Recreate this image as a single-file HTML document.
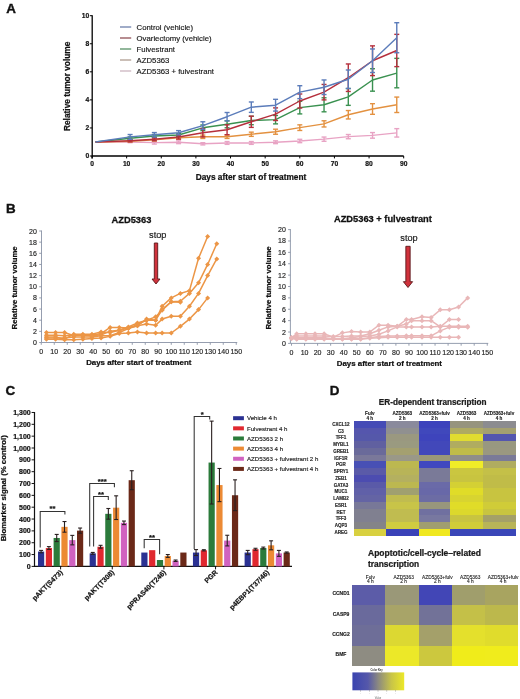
<!DOCTYPE html>
<html><head><meta charset="utf-8"><title>Figure</title>
<style>
html,body{margin:0;padding:0;background:#fff;}
body{width:520px;height:699px;overflow:hidden;}
svg{display:block;font-family:"Liberation Sans", sans-serif;filter:blur(0.3px);}
</style></head><body>
<svg width="520" height="699" viewBox="0 0 520 699">
<rect x="0" y="0" width="520" height="699" fill="#fff"/>
<text x="6.20" y="12.80" font-size="13.4" font-weight="bold" text-anchor="start" fill="#111" stroke="#111" stroke-width="0.38">A</text>
<line x1="92.20" y1="15.20" x2="92.20" y2="158.40" stroke="#000" stroke-width="1.3"/>
<line x1="91.70" y1="156.00" x2="403.70" y2="156.00" stroke="#000" stroke-width="1.35"/>
<line x1="89.80" y1="156.00" x2="92.20" y2="156.00" stroke="#000" stroke-width="1.0"/>
<text x="89.30" y="158.40" font-size="6.7" font-weight="bold" text-anchor="end" fill="#111" stroke="#111" stroke-width="0.19">0</text>
<line x1="89.80" y1="127.94" x2="92.20" y2="127.94" stroke="#000" stroke-width="1.0"/>
<text x="89.30" y="130.34" font-size="6.7" font-weight="bold" text-anchor="end" fill="#111" stroke="#111" stroke-width="0.19">2</text>
<line x1="89.80" y1="99.88" x2="92.20" y2="99.88" stroke="#000" stroke-width="1.0"/>
<text x="89.30" y="102.28" font-size="6.7" font-weight="bold" text-anchor="end" fill="#111" stroke="#111" stroke-width="0.19">4</text>
<line x1="89.80" y1="71.82" x2="92.20" y2="71.82" stroke="#000" stroke-width="1.0"/>
<text x="89.30" y="74.22" font-size="6.7" font-weight="bold" text-anchor="end" fill="#111" stroke="#111" stroke-width="0.19">6</text>
<line x1="89.80" y1="43.76" x2="92.20" y2="43.76" stroke="#000" stroke-width="1.0"/>
<text x="89.30" y="46.16" font-size="6.7" font-weight="bold" text-anchor="end" fill="#111" stroke="#111" stroke-width="0.19">8</text>
<line x1="89.80" y1="15.70" x2="92.20" y2="15.70" stroke="#000" stroke-width="1.0"/>
<text x="89.30" y="18.10" font-size="6.7" font-weight="bold" text-anchor="end" fill="#111" stroke="#111" stroke-width="0.19">10</text>
<line x1="92.00" y1="156.00" x2="92.00" y2="158.40" stroke="#000" stroke-width="1.0"/>
<text x="92.00" y="166.20" font-size="6.7" font-weight="bold" text-anchor="middle" fill="#111" stroke="#111" stroke-width="0.19">0</text>
<line x1="126.63" y1="156.00" x2="126.63" y2="158.40" stroke="#000" stroke-width="1.0"/>
<text x="126.63" y="166.20" font-size="6.7" font-weight="bold" text-anchor="middle" fill="#111" stroke="#111" stroke-width="0.19">10</text>
<line x1="161.27" y1="156.00" x2="161.27" y2="158.40" stroke="#000" stroke-width="1.0"/>
<text x="161.27" y="166.20" font-size="6.7" font-weight="bold" text-anchor="middle" fill="#111" stroke="#111" stroke-width="0.19">20</text>
<line x1="195.90" y1="156.00" x2="195.90" y2="158.40" stroke="#000" stroke-width="1.0"/>
<text x="195.90" y="166.20" font-size="6.7" font-weight="bold" text-anchor="middle" fill="#111" stroke="#111" stroke-width="0.19">30</text>
<line x1="230.53" y1="156.00" x2="230.53" y2="158.40" stroke="#000" stroke-width="1.0"/>
<text x="230.53" y="166.20" font-size="6.7" font-weight="bold" text-anchor="middle" fill="#111" stroke="#111" stroke-width="0.19">40</text>
<line x1="265.17" y1="156.00" x2="265.17" y2="158.40" stroke="#000" stroke-width="1.0"/>
<text x="265.17" y="166.20" font-size="6.7" font-weight="bold" text-anchor="middle" fill="#111" stroke="#111" stroke-width="0.19">50</text>
<line x1="299.80" y1="156.00" x2="299.80" y2="158.40" stroke="#000" stroke-width="1.0"/>
<text x="299.80" y="166.20" font-size="6.7" font-weight="bold" text-anchor="middle" fill="#111" stroke="#111" stroke-width="0.19">60</text>
<line x1="334.43" y1="156.00" x2="334.43" y2="158.40" stroke="#000" stroke-width="1.0"/>
<text x="334.43" y="166.20" font-size="6.7" font-weight="bold" text-anchor="middle" fill="#111" stroke="#111" stroke-width="0.19">70</text>
<line x1="369.07" y1="156.00" x2="369.07" y2="158.40" stroke="#000" stroke-width="1.0"/>
<text x="369.07" y="166.20" font-size="6.7" font-weight="bold" text-anchor="middle" fill="#111" stroke="#111" stroke-width="0.19">80</text>
<line x1="403.70" y1="156.00" x2="403.70" y2="158.40" stroke="#000" stroke-width="1.0"/>
<text x="403.70" y="166.20" font-size="6.7" font-weight="bold" text-anchor="middle" fill="#111" stroke="#111" stroke-width="0.19">90</text>
<text x="251.00" y="180.20" font-size="8.3" font-weight="bold" text-anchor="middle" fill="#111" stroke="#111" stroke-width="0.23">Days after start of treatment</text>
<text x="70.40" y="86.30" font-size="8.35" font-weight="bold" text-anchor="middle" fill="#111" stroke="#111" stroke-width="0.23" transform="rotate(-90 70.40 86.30)">Relative tumor volume</text>
<polyline points="95.46,141.97 130.10,141.97 154.34,142.67 178.58,142.25 202.83,143.79 227.07,142.95 251.31,142.95 275.56,142.25 299.80,140.99 324.04,139.16 348.29,136.64 372.53,135.38 396.77,132.85" fill="none" stroke="#e8a3c4" stroke-width="1.4" stroke-linejoin="round"/>
<line x1="130.10" y1="141.27" x2="130.10" y2="142.67" stroke="#e8a3c4" stroke-width="1.4"/>
<line x1="127.60" y1="141.27" x2="132.60" y2="141.27" stroke="#e8a3c4" stroke-width="1.4"/>
<line x1="127.60" y1="142.67" x2="132.60" y2="142.67" stroke="#e8a3c4" stroke-width="1.4"/>
<line x1="154.34" y1="141.27" x2="154.34" y2="144.07" stroke="#e8a3c4" stroke-width="1.4"/>
<line x1="151.84" y1="141.27" x2="156.84" y2="141.27" stroke="#e8a3c4" stroke-width="1.4"/>
<line x1="151.84" y1="144.07" x2="156.84" y2="144.07" stroke="#e8a3c4" stroke-width="1.4"/>
<line x1="178.58" y1="140.85" x2="178.58" y2="143.65" stroke="#e8a3c4" stroke-width="1.4"/>
<line x1="176.08" y1="140.85" x2="181.08" y2="140.85" stroke="#e8a3c4" stroke-width="1.4"/>
<line x1="176.08" y1="143.65" x2="181.08" y2="143.65" stroke="#e8a3c4" stroke-width="1.4"/>
<line x1="202.83" y1="142.67" x2="202.83" y2="144.92" stroke="#e8a3c4" stroke-width="1.4"/>
<line x1="200.33" y1="142.67" x2="205.33" y2="142.67" stroke="#e8a3c4" stroke-width="1.4"/>
<line x1="200.33" y1="144.92" x2="205.33" y2="144.92" stroke="#e8a3c4" stroke-width="1.4"/>
<line x1="227.07" y1="141.55" x2="227.07" y2="144.36" stroke="#e8a3c4" stroke-width="1.4"/>
<line x1="224.57" y1="141.55" x2="229.57" y2="141.55" stroke="#e8a3c4" stroke-width="1.4"/>
<line x1="224.57" y1="144.36" x2="229.57" y2="144.36" stroke="#e8a3c4" stroke-width="1.4"/>
<line x1="251.31" y1="141.55" x2="251.31" y2="144.36" stroke="#e8a3c4" stroke-width="1.4"/>
<line x1="248.81" y1="141.55" x2="253.81" y2="141.55" stroke="#e8a3c4" stroke-width="1.4"/>
<line x1="248.81" y1="144.36" x2="253.81" y2="144.36" stroke="#e8a3c4" stroke-width="1.4"/>
<line x1="275.56" y1="140.85" x2="275.56" y2="143.65" stroke="#e8a3c4" stroke-width="1.4"/>
<line x1="273.06" y1="140.85" x2="278.06" y2="140.85" stroke="#e8a3c4" stroke-width="1.4"/>
<line x1="273.06" y1="143.65" x2="278.06" y2="143.65" stroke="#e8a3c4" stroke-width="1.4"/>
<line x1="299.80" y1="139.30" x2="299.80" y2="142.67" stroke="#e8a3c4" stroke-width="1.4"/>
<line x1="297.30" y1="139.30" x2="302.30" y2="139.30" stroke="#e8a3c4" stroke-width="1.4"/>
<line x1="297.30" y1="142.67" x2="302.30" y2="142.67" stroke="#e8a3c4" stroke-width="1.4"/>
<line x1="324.04" y1="137.06" x2="324.04" y2="141.27" stroke="#e8a3c4" stroke-width="1.4"/>
<line x1="321.54" y1="137.06" x2="326.54" y2="137.06" stroke="#e8a3c4" stroke-width="1.4"/>
<line x1="321.54" y1="141.27" x2="326.54" y2="141.27" stroke="#e8a3c4" stroke-width="1.4"/>
<line x1="348.29" y1="134.53" x2="348.29" y2="138.74" stroke="#e8a3c4" stroke-width="1.4"/>
<line x1="345.79" y1="134.53" x2="350.79" y2="134.53" stroke="#e8a3c4" stroke-width="1.4"/>
<line x1="345.79" y1="138.74" x2="350.79" y2="138.74" stroke="#e8a3c4" stroke-width="1.4"/>
<line x1="372.53" y1="132.57" x2="372.53" y2="138.18" stroke="#e8a3c4" stroke-width="1.4"/>
<line x1="370.03" y1="132.57" x2="375.03" y2="132.57" stroke="#e8a3c4" stroke-width="1.4"/>
<line x1="370.03" y1="138.18" x2="375.03" y2="138.18" stroke="#e8a3c4" stroke-width="1.4"/>
<line x1="396.77" y1="128.64" x2="396.77" y2="137.06" stroke="#e8a3c4" stroke-width="1.4"/>
<line x1="394.27" y1="128.64" x2="399.27" y2="128.64" stroke="#e8a3c4" stroke-width="1.4"/>
<line x1="394.27" y1="137.06" x2="399.27" y2="137.06" stroke="#e8a3c4" stroke-width="1.4"/>
<polyline points="95.46,141.97 130.10,141.27 154.34,139.87 178.58,137.76 202.83,136.78 227.07,136.78 251.31,134.25 275.56,131.73 299.80,127.66 324.04,123.87 348.29,114.75 372.53,109.00 396.77,104.79" fill="none" stroke="#e39140" stroke-width="1.4" stroke-linejoin="round"/>
<line x1="130.10" y1="140.57" x2="130.10" y2="141.97" stroke="#e39140" stroke-width="1.4"/>
<line x1="127.60" y1="140.57" x2="132.60" y2="140.57" stroke="#e39140" stroke-width="1.4"/>
<line x1="127.60" y1="141.97" x2="132.60" y2="141.97" stroke="#e39140" stroke-width="1.4"/>
<line x1="154.34" y1="138.74" x2="154.34" y2="140.99" stroke="#e39140" stroke-width="1.4"/>
<line x1="151.84" y1="138.74" x2="156.84" y2="138.74" stroke="#e39140" stroke-width="1.4"/>
<line x1="151.84" y1="140.99" x2="156.84" y2="140.99" stroke="#e39140" stroke-width="1.4"/>
<line x1="178.58" y1="136.36" x2="178.58" y2="139.16" stroke="#e39140" stroke-width="1.4"/>
<line x1="176.08" y1="136.36" x2="181.08" y2="136.36" stroke="#e39140" stroke-width="1.4"/>
<line x1="176.08" y1="139.16" x2="181.08" y2="139.16" stroke="#e39140" stroke-width="1.4"/>
<line x1="202.83" y1="135.10" x2="202.83" y2="138.46" stroke="#e39140" stroke-width="1.4"/>
<line x1="200.33" y1="135.10" x2="205.33" y2="135.10" stroke="#e39140" stroke-width="1.4"/>
<line x1="200.33" y1="138.46" x2="205.33" y2="138.46" stroke="#e39140" stroke-width="1.4"/>
<line x1="227.07" y1="135.10" x2="227.07" y2="138.46" stroke="#e39140" stroke-width="1.4"/>
<line x1="224.57" y1="135.10" x2="229.57" y2="135.10" stroke="#e39140" stroke-width="1.4"/>
<line x1="224.57" y1="138.46" x2="229.57" y2="138.46" stroke="#e39140" stroke-width="1.4"/>
<line x1="251.31" y1="132.15" x2="251.31" y2="136.36" stroke="#e39140" stroke-width="1.4"/>
<line x1="248.81" y1="132.15" x2="253.81" y2="132.15" stroke="#e39140" stroke-width="1.4"/>
<line x1="248.81" y1="136.36" x2="253.81" y2="136.36" stroke="#e39140" stroke-width="1.4"/>
<line x1="275.56" y1="129.20" x2="275.56" y2="134.25" stroke="#e39140" stroke-width="1.4"/>
<line x1="273.06" y1="129.20" x2="278.06" y2="129.20" stroke="#e39140" stroke-width="1.4"/>
<line x1="273.06" y1="134.25" x2="278.06" y2="134.25" stroke="#e39140" stroke-width="1.4"/>
<line x1="299.80" y1="124.85" x2="299.80" y2="130.47" stroke="#e39140" stroke-width="1.4"/>
<line x1="297.30" y1="124.85" x2="302.30" y2="124.85" stroke="#e39140" stroke-width="1.4"/>
<line x1="297.30" y1="130.47" x2="302.30" y2="130.47" stroke="#e39140" stroke-width="1.4"/>
<line x1="324.04" y1="120.78" x2="324.04" y2="126.96" stroke="#e39140" stroke-width="1.4"/>
<line x1="321.54" y1="120.78" x2="326.54" y2="120.78" stroke="#e39140" stroke-width="1.4"/>
<line x1="321.54" y1="126.96" x2="326.54" y2="126.96" stroke="#e39140" stroke-width="1.4"/>
<line x1="348.29" y1="110.54" x2="348.29" y2="118.96" stroke="#e39140" stroke-width="1.4"/>
<line x1="345.79" y1="110.54" x2="350.79" y2="110.54" stroke="#e39140" stroke-width="1.4"/>
<line x1="345.79" y1="118.96" x2="350.79" y2="118.96" stroke="#e39140" stroke-width="1.4"/>
<line x1="372.53" y1="103.67" x2="372.53" y2="114.33" stroke="#e39140" stroke-width="1.4"/>
<line x1="370.03" y1="103.67" x2="375.03" y2="103.67" stroke="#e39140" stroke-width="1.4"/>
<line x1="370.03" y1="114.33" x2="375.03" y2="114.33" stroke="#e39140" stroke-width="1.4"/>
<line x1="396.77" y1="97.07" x2="396.77" y2="112.51" stroke="#e39140" stroke-width="1.4"/>
<line x1="394.27" y1="97.07" x2="399.27" y2="97.07" stroke="#e39140" stroke-width="1.4"/>
<line x1="394.27" y1="112.51" x2="399.27" y2="112.51" stroke="#e39140" stroke-width="1.4"/>
<polyline points="95.46,141.97 130.10,138.32 154.34,135.94 178.58,134.96 202.83,127.80 227.07,124.29 251.31,120.50 275.56,119.66 299.80,107.60 324.04,104.79 348.29,96.93 372.53,79.96 396.77,73.08" fill="none" stroke="#3a9150" stroke-width="1.4" stroke-linejoin="round"/>
<line x1="130.10" y1="136.92" x2="130.10" y2="139.73" stroke="#3a9150" stroke-width="1.4"/>
<line x1="127.60" y1="136.92" x2="132.60" y2="136.92" stroke="#3a9150" stroke-width="1.4"/>
<line x1="127.60" y1="139.73" x2="132.60" y2="139.73" stroke="#3a9150" stroke-width="1.4"/>
<line x1="154.34" y1="134.53" x2="154.34" y2="137.34" stroke="#3a9150" stroke-width="1.4"/>
<line x1="151.84" y1="134.53" x2="156.84" y2="134.53" stroke="#3a9150" stroke-width="1.4"/>
<line x1="151.84" y1="137.34" x2="156.84" y2="137.34" stroke="#3a9150" stroke-width="1.4"/>
<line x1="178.58" y1="133.55" x2="178.58" y2="136.36" stroke="#3a9150" stroke-width="1.4"/>
<line x1="176.08" y1="133.55" x2="181.08" y2="133.55" stroke="#3a9150" stroke-width="1.4"/>
<line x1="176.08" y1="136.36" x2="181.08" y2="136.36" stroke="#3a9150" stroke-width="1.4"/>
<line x1="202.83" y1="124.99" x2="202.83" y2="130.61" stroke="#3a9150" stroke-width="1.4"/>
<line x1="200.33" y1="124.99" x2="205.33" y2="124.99" stroke="#3a9150" stroke-width="1.4"/>
<line x1="200.33" y1="130.61" x2="205.33" y2="130.61" stroke="#3a9150" stroke-width="1.4"/>
<line x1="227.07" y1="120.78" x2="227.07" y2="127.80" stroke="#3a9150" stroke-width="1.4"/>
<line x1="224.57" y1="120.78" x2="229.57" y2="120.78" stroke="#3a9150" stroke-width="1.4"/>
<line x1="224.57" y1="127.80" x2="229.57" y2="127.80" stroke="#3a9150" stroke-width="1.4"/>
<line x1="251.31" y1="116.30" x2="251.31" y2="124.71" stroke="#3a9150" stroke-width="1.4"/>
<line x1="248.81" y1="116.30" x2="253.81" y2="116.30" stroke="#3a9150" stroke-width="1.4"/>
<line x1="248.81" y1="124.71" x2="253.81" y2="124.71" stroke="#3a9150" stroke-width="1.4"/>
<line x1="275.56" y1="115.45" x2="275.56" y2="123.87" stroke="#3a9150" stroke-width="1.4"/>
<line x1="273.06" y1="115.45" x2="278.06" y2="115.45" stroke="#3a9150" stroke-width="1.4"/>
<line x1="273.06" y1="123.87" x2="278.06" y2="123.87" stroke="#3a9150" stroke-width="1.4"/>
<line x1="299.80" y1="101.28" x2="299.80" y2="113.91" stroke="#3a9150" stroke-width="1.4"/>
<line x1="297.30" y1="101.28" x2="302.30" y2="101.28" stroke="#3a9150" stroke-width="1.4"/>
<line x1="297.30" y1="113.91" x2="302.30" y2="113.91" stroke="#3a9150" stroke-width="1.4"/>
<line x1="324.04" y1="97.78" x2="324.04" y2="111.81" stroke="#3a9150" stroke-width="1.4"/>
<line x1="321.54" y1="97.78" x2="326.54" y2="97.78" stroke="#3a9150" stroke-width="1.4"/>
<line x1="321.54" y1="111.81" x2="326.54" y2="111.81" stroke="#3a9150" stroke-width="1.4"/>
<line x1="348.29" y1="88.52" x2="348.29" y2="105.35" stroke="#3a9150" stroke-width="1.4"/>
<line x1="345.79" y1="88.52" x2="350.79" y2="88.52" stroke="#3a9150" stroke-width="1.4"/>
<line x1="345.79" y1="105.35" x2="350.79" y2="105.35" stroke="#3a9150" stroke-width="1.4"/>
<line x1="372.53" y1="68.73" x2="372.53" y2="91.18" stroke="#3a9150" stroke-width="1.4"/>
<line x1="370.03" y1="68.73" x2="375.03" y2="68.73" stroke="#3a9150" stroke-width="1.4"/>
<line x1="370.03" y1="91.18" x2="375.03" y2="91.18" stroke="#3a9150" stroke-width="1.4"/>
<line x1="396.77" y1="58.35" x2="396.77" y2="87.81" stroke="#3a9150" stroke-width="1.4"/>
<line x1="394.27" y1="58.35" x2="399.27" y2="58.35" stroke="#3a9150" stroke-width="1.4"/>
<line x1="394.27" y1="87.81" x2="399.27" y2="87.81" stroke="#3a9150" stroke-width="1.4"/>
<polyline points="95.46,141.97 130.10,140.71 154.34,139.30 178.58,137.06 202.83,132.71 227.07,129.76 251.31,121.77 275.56,114.19 299.80,101.00 324.04,92.16 348.29,77.71 372.53,60.74 396.77,50.49" fill="none" stroke="#b52f3c" stroke-width="1.4" stroke-linejoin="round"/>
<line x1="130.10" y1="139.58" x2="130.10" y2="141.83" stroke="#b52f3c" stroke-width="1.4"/>
<line x1="127.60" y1="139.58" x2="132.60" y2="139.58" stroke="#b52f3c" stroke-width="1.4"/>
<line x1="127.60" y1="141.83" x2="132.60" y2="141.83" stroke="#b52f3c" stroke-width="1.4"/>
<line x1="154.34" y1="137.90" x2="154.34" y2="140.71" stroke="#b52f3c" stroke-width="1.4"/>
<line x1="151.84" y1="137.90" x2="156.84" y2="137.90" stroke="#b52f3c" stroke-width="1.4"/>
<line x1="151.84" y1="140.71" x2="156.84" y2="140.71" stroke="#b52f3c" stroke-width="1.4"/>
<line x1="178.58" y1="135.10" x2="178.58" y2="139.02" stroke="#b52f3c" stroke-width="1.4"/>
<line x1="176.08" y1="135.10" x2="181.08" y2="135.10" stroke="#b52f3c" stroke-width="1.4"/>
<line x1="176.08" y1="139.02" x2="181.08" y2="139.02" stroke="#b52f3c" stroke-width="1.4"/>
<line x1="202.83" y1="128.50" x2="202.83" y2="136.92" stroke="#b52f3c" stroke-width="1.4"/>
<line x1="200.33" y1="128.50" x2="205.33" y2="128.50" stroke="#b52f3c" stroke-width="1.4"/>
<line x1="200.33" y1="136.92" x2="205.33" y2="136.92" stroke="#b52f3c" stroke-width="1.4"/>
<line x1="227.07" y1="124.85" x2="227.07" y2="134.67" stroke="#b52f3c" stroke-width="1.4"/>
<line x1="224.57" y1="124.85" x2="229.57" y2="124.85" stroke="#b52f3c" stroke-width="1.4"/>
<line x1="224.57" y1="134.67" x2="229.57" y2="134.67" stroke="#b52f3c" stroke-width="1.4"/>
<line x1="251.31" y1="116.15" x2="251.31" y2="127.38" stroke="#b52f3c" stroke-width="1.4"/>
<line x1="248.81" y1="116.15" x2="253.81" y2="116.15" stroke="#b52f3c" stroke-width="1.4"/>
<line x1="248.81" y1="127.38" x2="253.81" y2="127.38" stroke="#b52f3c" stroke-width="1.4"/>
<line x1="275.56" y1="107.88" x2="275.56" y2="120.50" stroke="#b52f3c" stroke-width="1.4"/>
<line x1="273.06" y1="107.88" x2="278.06" y2="107.88" stroke="#b52f3c" stroke-width="1.4"/>
<line x1="273.06" y1="120.50" x2="278.06" y2="120.50" stroke="#b52f3c" stroke-width="1.4"/>
<line x1="299.80" y1="93.99" x2="299.80" y2="108.02" stroke="#b52f3c" stroke-width="1.4"/>
<line x1="297.30" y1="93.99" x2="302.30" y2="93.99" stroke="#b52f3c" stroke-width="1.4"/>
<line x1="297.30" y1="108.02" x2="302.30" y2="108.02" stroke="#b52f3c" stroke-width="1.4"/>
<line x1="324.04" y1="84.45" x2="324.04" y2="99.88" stroke="#b52f3c" stroke-width="1.4"/>
<line x1="321.54" y1="84.45" x2="326.54" y2="84.45" stroke="#b52f3c" stroke-width="1.4"/>
<line x1="321.54" y1="99.88" x2="326.54" y2="99.88" stroke="#b52f3c" stroke-width="1.4"/>
<line x1="348.29" y1="63.96" x2="348.29" y2="91.46" stroke="#b52f3c" stroke-width="1.4"/>
<line x1="345.79" y1="63.96" x2="350.79" y2="63.96" stroke="#b52f3c" stroke-width="1.4"/>
<line x1="345.79" y1="91.46" x2="350.79" y2="91.46" stroke="#b52f3c" stroke-width="1.4"/>
<line x1="372.53" y1="45.86" x2="372.53" y2="75.61" stroke="#b52f3c" stroke-width="1.4"/>
<line x1="370.03" y1="45.86" x2="375.03" y2="45.86" stroke="#b52f3c" stroke-width="1.4"/>
<line x1="370.03" y1="75.61" x2="375.03" y2="75.61" stroke="#b52f3c" stroke-width="1.4"/>
<line x1="396.77" y1="34.36" x2="396.77" y2="66.63" stroke="#b52f3c" stroke-width="1.4"/>
<line x1="394.27" y1="34.36" x2="399.27" y2="34.36" stroke="#b52f3c" stroke-width="1.4"/>
<line x1="394.27" y1="66.63" x2="399.27" y2="66.63" stroke="#b52f3c" stroke-width="1.4"/>
<polyline points="95.46,141.97 130.10,136.92 154.34,134.81 178.58,132.71 202.83,125.55 227.07,116.72 251.31,107.18 275.56,105.21 299.80,92.16 324.04,87.25 348.29,79.26 372.53,60.74 396.77,37.73" fill="none" stroke="#5b7cba" stroke-width="1.4" stroke-linejoin="round"/>
<line x1="130.10" y1="134.53" x2="130.10" y2="139.30" stroke="#5b7cba" stroke-width="1.4"/>
<line x1="127.60" y1="134.53" x2="132.60" y2="134.53" stroke="#5b7cba" stroke-width="1.4"/>
<line x1="127.60" y1="139.30" x2="132.60" y2="139.30" stroke="#5b7cba" stroke-width="1.4"/>
<line x1="154.34" y1="132.57" x2="154.34" y2="137.06" stroke="#5b7cba" stroke-width="1.4"/>
<line x1="151.84" y1="132.57" x2="156.84" y2="132.57" stroke="#5b7cba" stroke-width="1.4"/>
<line x1="151.84" y1="137.06" x2="156.84" y2="137.06" stroke="#5b7cba" stroke-width="1.4"/>
<line x1="178.58" y1="130.61" x2="178.58" y2="134.81" stroke="#5b7cba" stroke-width="1.4"/>
<line x1="176.08" y1="130.61" x2="181.08" y2="130.61" stroke="#5b7cba" stroke-width="1.4"/>
<line x1="176.08" y1="134.81" x2="181.08" y2="134.81" stroke="#5b7cba" stroke-width="1.4"/>
<line x1="202.83" y1="121.77" x2="202.83" y2="129.34" stroke="#5b7cba" stroke-width="1.4"/>
<line x1="200.33" y1="121.77" x2="205.33" y2="121.77" stroke="#5b7cba" stroke-width="1.4"/>
<line x1="200.33" y1="129.34" x2="205.33" y2="129.34" stroke="#5b7cba" stroke-width="1.4"/>
<line x1="227.07" y1="112.51" x2="227.07" y2="120.93" stroke="#5b7cba" stroke-width="1.4"/>
<line x1="224.57" y1="112.51" x2="229.57" y2="112.51" stroke="#5b7cba" stroke-width="1.4"/>
<line x1="224.57" y1="120.93" x2="229.57" y2="120.93" stroke="#5b7cba" stroke-width="1.4"/>
<line x1="251.31" y1="101.98" x2="251.31" y2="112.37" stroke="#5b7cba" stroke-width="1.4"/>
<line x1="248.81" y1="101.98" x2="253.81" y2="101.98" stroke="#5b7cba" stroke-width="1.4"/>
<line x1="248.81" y1="112.37" x2="253.81" y2="112.37" stroke="#5b7cba" stroke-width="1.4"/>
<line x1="275.56" y1="99.32" x2="275.56" y2="111.10" stroke="#5b7cba" stroke-width="1.4"/>
<line x1="273.06" y1="99.32" x2="278.06" y2="99.32" stroke="#5b7cba" stroke-width="1.4"/>
<line x1="273.06" y1="111.10" x2="278.06" y2="111.10" stroke="#5b7cba" stroke-width="1.4"/>
<line x1="299.80" y1="85.71" x2="299.80" y2="98.62" stroke="#5b7cba" stroke-width="1.4"/>
<line x1="297.30" y1="85.71" x2="302.30" y2="85.71" stroke="#5b7cba" stroke-width="1.4"/>
<line x1="297.30" y1="98.62" x2="302.30" y2="98.62" stroke="#5b7cba" stroke-width="1.4"/>
<line x1="324.04" y1="79.96" x2="324.04" y2="94.55" stroke="#5b7cba" stroke-width="1.4"/>
<line x1="321.54" y1="79.96" x2="326.54" y2="79.96" stroke="#5b7cba" stroke-width="1.4"/>
<line x1="321.54" y1="94.55" x2="326.54" y2="94.55" stroke="#5b7cba" stroke-width="1.4"/>
<line x1="348.29" y1="70.00" x2="348.29" y2="88.52" stroke="#5b7cba" stroke-width="1.4"/>
<line x1="345.79" y1="70.00" x2="350.79" y2="70.00" stroke="#5b7cba" stroke-width="1.4"/>
<line x1="345.79" y1="88.52" x2="350.79" y2="88.52" stroke="#5b7cba" stroke-width="1.4"/>
<line x1="372.53" y1="48.95" x2="372.53" y2="72.52" stroke="#5b7cba" stroke-width="1.4"/>
<line x1="370.03" y1="48.95" x2="375.03" y2="48.95" stroke="#5b7cba" stroke-width="1.4"/>
<line x1="370.03" y1="72.52" x2="375.03" y2="72.52" stroke="#5b7cba" stroke-width="1.4"/>
<line x1="396.77" y1="22.72" x2="396.77" y2="52.74" stroke="#5b7cba" stroke-width="1.4"/>
<line x1="394.27" y1="22.72" x2="399.27" y2="22.72" stroke="#5b7cba" stroke-width="1.4"/>
<line x1="394.27" y1="52.74" x2="399.27" y2="52.74" stroke="#5b7cba" stroke-width="1.4"/>
<line x1="120.00" y1="27.00" x2="131.20" y2="27.00" stroke="#52699c" stroke-width="1.1"/>
<text x="136.60" y="30.10" font-size="7.75" text-anchor="start" fill="#1a1a1a" stroke="#1a1a1a" stroke-width="0.17">Control (vehicle)</text>
<line x1="120.00" y1="38.00" x2="131.20" y2="38.00" stroke="#7c3038" stroke-width="1.1"/>
<text x="136.60" y="40.95" font-size="7.75" text-anchor="start" fill="#1a1a1a" stroke="#1a1a1a" stroke-width="0.17">Ovariectomy (vehicle)</text>
<line x1="120.00" y1="49.00" x2="131.20" y2="49.00" stroke="#3a7c4a" stroke-width="1.1"/>
<text x="136.60" y="51.80" font-size="7.75" text-anchor="start" fill="#1a1a1a" stroke="#1a1a1a" stroke-width="0.17">Fulvestrant</text>
<line x1="120.00" y1="60.00" x2="131.20" y2="60.00" stroke="#a08a7c" stroke-width="1.1"/>
<text x="136.60" y="62.65" font-size="7.75" text-anchor="start" fill="#1a1a1a" stroke="#1a1a1a" stroke-width="0.17">AZD5363</text>
<line x1="120.00" y1="71.00" x2="131.20" y2="71.00" stroke="#c4a8b4" stroke-width="1.1"/>
<text x="136.60" y="73.50" font-size="7.75" text-anchor="start" fill="#1a1a1a" stroke="#1a1a1a" stroke-width="0.17">AZD5363 + fulvestrant</text>
<text x="5.90" y="212.60" font-size="13.4" font-weight="bold" text-anchor="start" fill="#111" stroke="#111" stroke-width="0.38">B</text>
<line x1="41.50" y1="230.50" x2="41.50" y2="342.50" stroke="#8a93a6" stroke-width="0.9"/>
<line x1="41.50" y1="342.50" x2="237.25" y2="342.50" stroke="#8a93a6" stroke-width="0.9"/>
<line x1="39.20" y1="342.50" x2="41.50" y2="342.50" stroke="#8a93a6" stroke-width="0.9"/>
<text x="36.90" y="345.00" font-size="7.0" text-anchor="end" fill="#222" stroke="#222" stroke-width="0.15">0</text>
<line x1="39.20" y1="331.35" x2="41.50" y2="331.35" stroke="#8a93a6" stroke-width="0.9"/>
<text x="36.90" y="333.85" font-size="7.0" text-anchor="end" fill="#222" stroke="#222" stroke-width="0.15">2</text>
<line x1="39.20" y1="320.20" x2="41.50" y2="320.20" stroke="#8a93a6" stroke-width="0.9"/>
<text x="36.90" y="322.70" font-size="7.0" text-anchor="end" fill="#222" stroke="#222" stroke-width="0.15">4</text>
<line x1="39.20" y1="309.05" x2="41.50" y2="309.05" stroke="#8a93a6" stroke-width="0.9"/>
<text x="36.90" y="311.55" font-size="7.0" text-anchor="end" fill="#222" stroke="#222" stroke-width="0.15">6</text>
<line x1="39.20" y1="297.90" x2="41.50" y2="297.90" stroke="#8a93a6" stroke-width="0.9"/>
<text x="36.90" y="300.40" font-size="7.0" text-anchor="end" fill="#222" stroke="#222" stroke-width="0.15">8</text>
<line x1="39.20" y1="286.75" x2="41.50" y2="286.75" stroke="#8a93a6" stroke-width="0.9"/>
<text x="36.90" y="289.25" font-size="7.0" text-anchor="end" fill="#222" stroke="#222" stroke-width="0.15">10</text>
<line x1="39.20" y1="275.60" x2="41.50" y2="275.60" stroke="#8a93a6" stroke-width="0.9"/>
<text x="36.90" y="278.10" font-size="7.0" text-anchor="end" fill="#222" stroke="#222" stroke-width="0.15">12</text>
<line x1="39.20" y1="264.45" x2="41.50" y2="264.45" stroke="#8a93a6" stroke-width="0.9"/>
<text x="36.90" y="266.95" font-size="7.0" text-anchor="end" fill="#222" stroke="#222" stroke-width="0.15">14</text>
<line x1="39.20" y1="253.30" x2="41.50" y2="253.30" stroke="#8a93a6" stroke-width="0.9"/>
<text x="36.90" y="255.80" font-size="7.0" text-anchor="end" fill="#222" stroke="#222" stroke-width="0.15">16</text>
<line x1="39.20" y1="242.15" x2="41.50" y2="242.15" stroke="#8a93a6" stroke-width="0.9"/>
<text x="36.90" y="244.65" font-size="7.0" text-anchor="end" fill="#222" stroke="#222" stroke-width="0.15">18</text>
<line x1="39.20" y1="231.00" x2="41.50" y2="231.00" stroke="#8a93a6" stroke-width="0.9"/>
<text x="36.90" y="233.50" font-size="7.0" text-anchor="end" fill="#222" stroke="#222" stroke-width="0.15">20</text>
<line x1="41.25" y1="342.50" x2="41.25" y2="344.80" stroke="#8a93a6" stroke-width="0.9"/>
<text x="41.25" y="354.30" font-size="7.0" text-anchor="middle" fill="#222" stroke="#222" stroke-width="0.15">0</text>
<line x1="54.25" y1="342.50" x2="54.25" y2="344.80" stroke="#8a93a6" stroke-width="0.9"/>
<text x="54.25" y="354.30" font-size="7.0" text-anchor="middle" fill="#222" stroke="#222" stroke-width="0.15">10</text>
<line x1="67.25" y1="342.50" x2="67.25" y2="344.80" stroke="#8a93a6" stroke-width="0.9"/>
<text x="67.25" y="354.30" font-size="7.0" text-anchor="middle" fill="#222" stroke="#222" stroke-width="0.15">20</text>
<line x1="80.25" y1="342.50" x2="80.25" y2="344.80" stroke="#8a93a6" stroke-width="0.9"/>
<text x="80.25" y="354.30" font-size="7.0" text-anchor="middle" fill="#222" stroke="#222" stroke-width="0.15">30</text>
<line x1="93.25" y1="342.50" x2="93.25" y2="344.80" stroke="#8a93a6" stroke-width="0.9"/>
<text x="93.25" y="354.30" font-size="7.0" text-anchor="middle" fill="#222" stroke="#222" stroke-width="0.15">40</text>
<line x1="106.25" y1="342.50" x2="106.25" y2="344.80" stroke="#8a93a6" stroke-width="0.9"/>
<text x="106.25" y="354.30" font-size="7.0" text-anchor="middle" fill="#222" stroke="#222" stroke-width="0.15">50</text>
<line x1="119.25" y1="342.50" x2="119.25" y2="344.80" stroke="#8a93a6" stroke-width="0.9"/>
<text x="119.25" y="354.30" font-size="7.0" text-anchor="middle" fill="#222" stroke="#222" stroke-width="0.15">60</text>
<line x1="132.25" y1="342.50" x2="132.25" y2="344.80" stroke="#8a93a6" stroke-width="0.9"/>
<text x="132.25" y="354.30" font-size="7.0" text-anchor="middle" fill="#222" stroke="#222" stroke-width="0.15">70</text>
<line x1="145.25" y1="342.50" x2="145.25" y2="344.80" stroke="#8a93a6" stroke-width="0.9"/>
<text x="145.25" y="354.30" font-size="7.0" text-anchor="middle" fill="#222" stroke="#222" stroke-width="0.15">80</text>
<line x1="158.25" y1="342.50" x2="158.25" y2="344.80" stroke="#8a93a6" stroke-width="0.9"/>
<text x="158.25" y="354.30" font-size="7.0" text-anchor="middle" fill="#222" stroke="#222" stroke-width="0.15">90</text>
<line x1="171.25" y1="342.50" x2="171.25" y2="344.80" stroke="#8a93a6" stroke-width="0.9"/>
<text x="171.25" y="354.30" font-size="7.0" text-anchor="middle" fill="#222" stroke="#222" stroke-width="0.15">100</text>
<line x1="184.25" y1="342.50" x2="184.25" y2="344.80" stroke="#8a93a6" stroke-width="0.9"/>
<text x="184.25" y="354.30" font-size="7.0" text-anchor="middle" fill="#222" stroke="#222" stroke-width="0.15">110</text>
<line x1="197.25" y1="342.50" x2="197.25" y2="344.80" stroke="#8a93a6" stroke-width="0.9"/>
<text x="197.25" y="354.30" font-size="7.0" text-anchor="middle" fill="#222" stroke="#222" stroke-width="0.15">120</text>
<line x1="210.25" y1="342.50" x2="210.25" y2="344.80" stroke="#8a93a6" stroke-width="0.9"/>
<text x="210.25" y="354.30" font-size="7.0" text-anchor="middle" fill="#222" stroke="#222" stroke-width="0.15">130</text>
<line x1="223.25" y1="342.50" x2="223.25" y2="344.80" stroke="#8a93a6" stroke-width="0.9"/>
<text x="223.25" y="354.30" font-size="7.0" text-anchor="middle" fill="#222" stroke="#222" stroke-width="0.15">140</text>
<line x1="236.25" y1="342.50" x2="236.25" y2="344.80" stroke="#8a93a6" stroke-width="0.9"/>
<text x="236.25" y="354.30" font-size="7.0" text-anchor="middle" fill="#222" stroke="#222" stroke-width="0.15">150</text>
<text x="138.75" y="365.00" font-size="7.9" font-weight="bold" text-anchor="middle" fill="#111" stroke="#111" stroke-width="0.22">Days after start of treatment</text>
<text x="17.10" y="287.90" font-size="7.75" font-weight="bold" text-anchor="middle" fill="#111" stroke="#111" stroke-width="0.22" transform="rotate(-90 17.10 287.90)">Relative tumor volume</text>
<text x="131.50" y="222.50" font-size="9.3" font-weight="bold" text-anchor="middle" fill="#111" stroke="#111" stroke-width="0.26">AZD5363</text>
<polyline points="46.45,332.46 55.55,332.46 64.65,332.46 73.75,335.81 82.85,335.25 91.95,335.25 101.05,333.58 110.15,327.45 119.25,327.45 128.35,328.00 137.45,325.77 146.55,319.08 155.65,320.20 162.15,306.26 171.25,297.90 180.35,293.44 189.45,290.65 198.55,258.32 207.65,236.57" fill="none" stroke="#ec9646" stroke-width="1.5" stroke-linejoin="round"/>
<path d="M46.45,329.96 L48.95,332.46 L46.45,334.96 L43.95,332.46 Z" fill="#ec9646"/>
<path d="M55.55,329.96 L58.05,332.46 L55.55,334.96 L53.05,332.46 Z" fill="#ec9646"/>
<path d="M64.65,329.96 L67.15,332.46 L64.65,334.96 L62.15,332.46 Z" fill="#ec9646"/>
<path d="M73.75,333.31 L76.25,335.81 L73.75,338.31 L71.25,335.81 Z" fill="#ec9646"/>
<path d="M82.85,332.75 L85.35,335.25 L82.85,337.75 L80.35,335.25 Z" fill="#ec9646"/>
<path d="M91.95,332.75 L94.45,335.25 L91.95,337.75 L89.45,335.25 Z" fill="#ec9646"/>
<path d="M101.05,331.08 L103.55,333.58 L101.05,336.08 L98.55,333.58 Z" fill="#ec9646"/>
<path d="M110.15,324.95 L112.65,327.45 L110.15,329.95 L107.65,327.45 Z" fill="#ec9646"/>
<path d="M119.25,324.95 L121.75,327.45 L119.25,329.95 L116.75,327.45 Z" fill="#ec9646"/>
<path d="M128.35,325.50 L130.85,328.00 L128.35,330.50 L125.85,328.00 Z" fill="#ec9646"/>
<path d="M137.45,323.27 L139.95,325.77 L137.45,328.27 L134.95,325.77 Z" fill="#ec9646"/>
<path d="M146.55,316.58 L149.05,319.08 L146.55,321.58 L144.05,319.08 Z" fill="#ec9646"/>
<path d="M155.65,317.70 L158.15,320.20 L155.65,322.70 L153.15,320.20 Z" fill="#ec9646"/>
<path d="M162.15,303.76 L164.65,306.26 L162.15,308.76 L159.65,306.26 Z" fill="#ec9646"/>
<path d="M171.25,295.40 L173.75,297.90 L171.25,300.40 L168.75,297.90 Z" fill="#ec9646"/>
<path d="M180.35,290.94 L182.85,293.44 L180.35,295.94 L177.85,293.44 Z" fill="#ec9646"/>
<path d="M189.45,288.15 L191.95,290.65 L189.45,293.15 L186.95,290.65 Z" fill="#ec9646"/>
<path d="M198.55,255.82 L201.05,258.32 L198.55,260.82 L196.05,258.32 Z" fill="#ec9646"/>
<path d="M207.65,234.07 L210.15,236.57 L207.65,239.07 L205.15,236.57 Z" fill="#ec9646"/>
<polyline points="46.45,336.93 55.55,336.93 64.65,339.15 73.75,334.14 82.85,334.14 91.95,334.14 101.05,331.91 110.15,332.46 119.25,330.24 128.35,326.89 137.45,322.99 146.55,320.20 155.65,320.20 162.15,309.61 171.25,301.80 180.35,301.25 189.45,293.44 198.55,282.85 207.65,264.45 216.75,243.82" fill="none" stroke="#ec9646" stroke-width="1.5" stroke-linejoin="round"/>
<path d="M46.45,334.43 L48.95,336.93 L46.45,339.43 L43.95,336.93 Z" fill="#ec9646"/>
<path d="M55.55,334.43 L58.05,336.93 L55.55,339.43 L53.05,336.93 Z" fill="#ec9646"/>
<path d="M64.65,336.65 L67.15,339.15 L64.65,341.65 L62.15,339.15 Z" fill="#ec9646"/>
<path d="M73.75,331.64 L76.25,334.14 L73.75,336.64 L71.25,334.14 Z" fill="#ec9646"/>
<path d="M82.85,331.64 L85.35,334.14 L82.85,336.64 L80.35,334.14 Z" fill="#ec9646"/>
<path d="M91.95,331.64 L94.45,334.14 L91.95,336.64 L89.45,334.14 Z" fill="#ec9646"/>
<path d="M101.05,329.41 L103.55,331.91 L101.05,334.41 L98.55,331.91 Z" fill="#ec9646"/>
<path d="M110.15,329.96 L112.65,332.46 L110.15,334.96 L107.65,332.46 Z" fill="#ec9646"/>
<path d="M119.25,327.74 L121.75,330.24 L119.25,332.74 L116.75,330.24 Z" fill="#ec9646"/>
<path d="M128.35,324.39 L130.85,326.89 L128.35,329.39 L125.85,326.89 Z" fill="#ec9646"/>
<path d="M137.45,320.49 L139.95,322.99 L137.45,325.49 L134.95,322.99 Z" fill="#ec9646"/>
<path d="M146.55,317.70 L149.05,320.20 L146.55,322.70 L144.05,320.20 Z" fill="#ec9646"/>
<path d="M155.65,317.70 L158.15,320.20 L155.65,322.70 L153.15,320.20 Z" fill="#ec9646"/>
<path d="M162.15,307.11 L164.65,309.61 L162.15,312.11 L159.65,309.61 Z" fill="#ec9646"/>
<path d="M171.25,299.30 L173.75,301.80 L171.25,304.30 L168.75,301.80 Z" fill="#ec9646"/>
<path d="M180.35,298.75 L182.85,301.25 L180.35,303.75 L177.85,301.25 Z" fill="#ec9646"/>
<path d="M189.45,290.94 L191.95,293.44 L189.45,295.94 L186.95,293.44 Z" fill="#ec9646"/>
<path d="M198.55,280.35 L201.05,282.85 L198.55,285.35 L196.05,282.85 Z" fill="#ec9646"/>
<path d="M207.65,261.95 L210.15,264.45 L207.65,266.95 L205.15,264.45 Z" fill="#ec9646"/>
<path d="M216.75,241.32 L219.25,243.82 L216.75,246.32 L214.25,243.82 Z" fill="#ec9646"/>
<polyline points="46.45,338.04 55.55,338.04 64.65,338.04 73.75,336.93 82.85,336.93 91.95,336.93 101.05,335.81 110.15,335.81 119.25,332.46 128.35,328.56 137.45,325.77 146.55,324.10 155.65,325.22 162.15,319.08 171.25,316.30 180.35,316.30 189.45,306.26 198.55,293.44 207.65,275.60 216.75,258.88" fill="none" stroke="#ec9646" stroke-width="1.5" stroke-linejoin="round"/>
<path d="M46.45,335.54 L48.95,338.04 L46.45,340.54 L43.95,338.04 Z" fill="#ec9646"/>
<path d="M55.55,335.54 L58.05,338.04 L55.55,340.54 L53.05,338.04 Z" fill="#ec9646"/>
<path d="M64.65,335.54 L67.15,338.04 L64.65,340.54 L62.15,338.04 Z" fill="#ec9646"/>
<path d="M73.75,334.43 L76.25,336.93 L73.75,339.43 L71.25,336.93 Z" fill="#ec9646"/>
<path d="M82.85,334.43 L85.35,336.93 L82.85,339.43 L80.35,336.93 Z" fill="#ec9646"/>
<path d="M91.95,334.43 L94.45,336.93 L91.95,339.43 L89.45,336.93 Z" fill="#ec9646"/>
<path d="M101.05,333.31 L103.55,335.81 L101.05,338.31 L98.55,335.81 Z" fill="#ec9646"/>
<path d="M110.15,333.31 L112.65,335.81 L110.15,338.31 L107.65,335.81 Z" fill="#ec9646"/>
<path d="M119.25,329.96 L121.75,332.46 L119.25,334.96 L116.75,332.46 Z" fill="#ec9646"/>
<path d="M128.35,326.06 L130.85,328.56 L128.35,331.06 L125.85,328.56 Z" fill="#ec9646"/>
<path d="M137.45,323.27 L139.95,325.77 L137.45,328.27 L134.95,325.77 Z" fill="#ec9646"/>
<path d="M146.55,321.60 L149.05,324.10 L146.55,326.60 L144.05,324.10 Z" fill="#ec9646"/>
<path d="M155.65,322.72 L158.15,325.22 L155.65,327.72 L153.15,325.22 Z" fill="#ec9646"/>
<path d="M162.15,316.58 L164.65,319.08 L162.15,321.58 L159.65,319.08 Z" fill="#ec9646"/>
<path d="M171.25,313.80 L173.75,316.30 L171.25,318.80 L168.75,316.30 Z" fill="#ec9646"/>
<path d="M180.35,313.80 L182.85,316.30 L180.35,318.80 L177.85,316.30 Z" fill="#ec9646"/>
<path d="M189.45,303.76 L191.95,306.26 L189.45,308.76 L186.95,306.26 Z" fill="#ec9646"/>
<path d="M198.55,290.94 L201.05,293.44 L198.55,295.94 L196.05,293.44 Z" fill="#ec9646"/>
<path d="M207.65,273.10 L210.15,275.60 L207.65,278.10 L205.15,275.60 Z" fill="#ec9646"/>
<path d="M216.75,256.38 L219.25,258.88 L216.75,261.38 L214.25,258.88 Z" fill="#ec9646"/>
<polyline points="46.45,339.15 55.55,339.15 64.65,339.71 73.75,339.71 82.85,339.15 91.95,338.60 101.05,338.04 110.15,336.37 119.25,333.58 128.35,333.02 137.45,331.91 146.55,333.02 155.65,333.02 162.15,333.02 171.25,333.02 180.35,326.33 189.45,319.08 198.55,309.61 207.65,297.90" fill="none" stroke="#ec9646" stroke-width="1.5" stroke-linejoin="round"/>
<path d="M46.45,336.65 L48.95,339.15 L46.45,341.65 L43.95,339.15 Z" fill="#ec9646"/>
<path d="M55.55,336.65 L58.05,339.15 L55.55,341.65 L53.05,339.15 Z" fill="#ec9646"/>
<path d="M64.65,337.21 L67.15,339.71 L64.65,342.21 L62.15,339.71 Z" fill="#ec9646"/>
<path d="M73.75,337.21 L76.25,339.71 L73.75,342.21 L71.25,339.71 Z" fill="#ec9646"/>
<path d="M82.85,336.65 L85.35,339.15 L82.85,341.65 L80.35,339.15 Z" fill="#ec9646"/>
<path d="M91.95,336.10 L94.45,338.60 L91.95,341.10 L89.45,338.60 Z" fill="#ec9646"/>
<path d="M101.05,335.54 L103.55,338.04 L101.05,340.54 L98.55,338.04 Z" fill="#ec9646"/>
<path d="M110.15,333.87 L112.65,336.37 L110.15,338.87 L107.65,336.37 Z" fill="#ec9646"/>
<path d="M119.25,331.08 L121.75,333.58 L119.25,336.08 L116.75,333.58 Z" fill="#ec9646"/>
<path d="M128.35,330.52 L130.85,333.02 L128.35,335.52 L125.85,333.02 Z" fill="#ec9646"/>
<path d="M137.45,329.41 L139.95,331.91 L137.45,334.41 L134.95,331.91 Z" fill="#ec9646"/>
<path d="M146.55,330.52 L149.05,333.02 L146.55,335.52 L144.05,333.02 Z" fill="#ec9646"/>
<path d="M155.65,330.52 L158.15,333.02 L155.65,335.52 L153.15,333.02 Z" fill="#ec9646"/>
<path d="M162.15,330.52 L164.65,333.02 L162.15,335.52 L159.65,333.02 Z" fill="#ec9646"/>
<path d="M171.25,330.52 L173.75,333.02 L171.25,335.52 L168.75,333.02 Z" fill="#ec9646"/>
<path d="M180.35,323.83 L182.85,326.33 L180.35,328.83 L177.85,326.33 Z" fill="#ec9646"/>
<path d="M189.45,316.58 L191.95,319.08 L189.45,321.58 L186.95,319.08 Z" fill="#ec9646"/>
<path d="M198.55,307.11 L201.05,309.61 L198.55,312.11 L196.05,309.61 Z" fill="#ec9646"/>
<path d="M207.65,295.40 L210.15,297.90 L207.65,300.40 L205.15,297.90 Z" fill="#ec9646"/>
<polyline points="46.45,335.25 55.55,335.25 64.65,335.81 73.75,335.25 82.85,335.25 91.95,335.81 101.05,334.69 110.15,331.35 119.25,330.24 128.35,328.00 137.45,324.66 146.55,320.20 155.65,316.86 162.15,310.17 171.25,301.80 180.35,302.36" fill="none" stroke="#ec9646" stroke-width="1.5" stroke-linejoin="round"/>
<path d="M46.45,332.75 L48.95,335.25 L46.45,337.75 L43.95,335.25 Z" fill="#ec9646"/>
<path d="M55.55,332.75 L58.05,335.25 L55.55,337.75 L53.05,335.25 Z" fill="#ec9646"/>
<path d="M64.65,333.31 L67.15,335.81 L64.65,338.31 L62.15,335.81 Z" fill="#ec9646"/>
<path d="M73.75,332.75 L76.25,335.25 L73.75,337.75 L71.25,335.25 Z" fill="#ec9646"/>
<path d="M82.85,332.75 L85.35,335.25 L82.85,337.75 L80.35,335.25 Z" fill="#ec9646"/>
<path d="M91.95,333.31 L94.45,335.81 L91.95,338.31 L89.45,335.81 Z" fill="#ec9646"/>
<path d="M101.05,332.19 L103.55,334.69 L101.05,337.19 L98.55,334.69 Z" fill="#ec9646"/>
<path d="M110.15,328.85 L112.65,331.35 L110.15,333.85 L107.65,331.35 Z" fill="#ec9646"/>
<path d="M119.25,327.74 L121.75,330.24 L119.25,332.74 L116.75,330.24 Z" fill="#ec9646"/>
<path d="M128.35,325.50 L130.85,328.00 L128.35,330.50 L125.85,328.00 Z" fill="#ec9646"/>
<path d="M137.45,322.16 L139.95,324.66 L137.45,327.16 L134.95,324.66 Z" fill="#ec9646"/>
<path d="M146.55,317.70 L149.05,320.20 L146.55,322.70 L144.05,320.20 Z" fill="#ec9646"/>
<path d="M155.65,314.36 L158.15,316.86 L155.65,319.36 L153.15,316.86 Z" fill="#ec9646"/>
<path d="M162.15,307.67 L164.65,310.17 L162.15,312.67 L159.65,310.17 Z" fill="#ec9646"/>
<path d="M171.25,299.30 L173.75,301.80 L171.25,304.30 L168.75,301.80 Z" fill="#ec9646"/>
<path d="M180.35,299.86 L182.85,302.36 L180.35,304.86 L177.85,302.36 Z" fill="#ec9646"/>
<path d="M154.30,243.00 H157.70 V279.00 H160.00 L156.00,284.00 L152.00,279.00 H154.30 Z" fill="#d0323c" stroke="#5a1618" stroke-width="0.9"/>
<text x="157.80" y="237.80" font-size="9.2" text-anchor="middle" fill="#222" stroke="#222" stroke-width="0.20">stop</text>
<line x1="290.40" y1="229.10" x2="290.40" y2="343.40" stroke="#8a93a6" stroke-width="0.9"/>
<line x1="290.40" y1="343.40" x2="488.25" y2="343.40" stroke="#8a93a6" stroke-width="0.9"/>
<line x1="288.10" y1="343.40" x2="290.40" y2="343.40" stroke="#8a93a6" stroke-width="0.9"/>
<text x="285.80" y="345.90" font-size="7.0" text-anchor="end" fill="#222" stroke="#222" stroke-width="0.15">0</text>
<line x1="288.10" y1="332.02" x2="290.40" y2="332.02" stroke="#8a93a6" stroke-width="0.9"/>
<text x="285.80" y="334.52" font-size="7.0" text-anchor="end" fill="#222" stroke="#222" stroke-width="0.15">2</text>
<line x1="288.10" y1="320.64" x2="290.40" y2="320.64" stroke="#8a93a6" stroke-width="0.9"/>
<text x="285.80" y="323.14" font-size="7.0" text-anchor="end" fill="#222" stroke="#222" stroke-width="0.15">4</text>
<line x1="288.10" y1="309.26" x2="290.40" y2="309.26" stroke="#8a93a6" stroke-width="0.9"/>
<text x="285.80" y="311.76" font-size="7.0" text-anchor="end" fill="#222" stroke="#222" stroke-width="0.15">6</text>
<line x1="288.10" y1="297.88" x2="290.40" y2="297.88" stroke="#8a93a6" stroke-width="0.9"/>
<text x="285.80" y="300.38" font-size="7.0" text-anchor="end" fill="#222" stroke="#222" stroke-width="0.15">8</text>
<line x1="288.10" y1="286.50" x2="290.40" y2="286.50" stroke="#8a93a6" stroke-width="0.9"/>
<text x="285.80" y="289.00" font-size="7.0" text-anchor="end" fill="#222" stroke="#222" stroke-width="0.15">10</text>
<line x1="288.10" y1="275.12" x2="290.40" y2="275.12" stroke="#8a93a6" stroke-width="0.9"/>
<text x="285.80" y="277.62" font-size="7.0" text-anchor="end" fill="#222" stroke="#222" stroke-width="0.15">12</text>
<line x1="288.10" y1="263.74" x2="290.40" y2="263.74" stroke="#8a93a6" stroke-width="0.9"/>
<text x="285.80" y="266.24" font-size="7.0" text-anchor="end" fill="#222" stroke="#222" stroke-width="0.15">14</text>
<line x1="288.10" y1="252.36" x2="290.40" y2="252.36" stroke="#8a93a6" stroke-width="0.9"/>
<text x="285.80" y="254.86" font-size="7.0" text-anchor="end" fill="#222" stroke="#222" stroke-width="0.15">16</text>
<line x1="288.10" y1="240.98" x2="290.40" y2="240.98" stroke="#8a93a6" stroke-width="0.9"/>
<text x="285.80" y="243.48" font-size="7.0" text-anchor="end" fill="#222" stroke="#222" stroke-width="0.15">18</text>
<line x1="288.10" y1="229.60" x2="290.40" y2="229.60" stroke="#8a93a6" stroke-width="0.9"/>
<text x="285.80" y="232.10" font-size="7.0" text-anchor="end" fill="#222" stroke="#222" stroke-width="0.15">20</text>
<line x1="291.50" y1="343.40" x2="291.50" y2="345.70" stroke="#8a93a6" stroke-width="0.9"/>
<text x="291.50" y="355.20" font-size="7.0" text-anchor="middle" fill="#222" stroke="#222" stroke-width="0.15">0</text>
<line x1="304.55" y1="343.40" x2="304.55" y2="345.70" stroke="#8a93a6" stroke-width="0.9"/>
<text x="304.55" y="355.20" font-size="7.0" text-anchor="middle" fill="#222" stroke="#222" stroke-width="0.15">10</text>
<line x1="317.60" y1="343.40" x2="317.60" y2="345.70" stroke="#8a93a6" stroke-width="0.9"/>
<text x="317.60" y="355.20" font-size="7.0" text-anchor="middle" fill="#222" stroke="#222" stroke-width="0.15">20</text>
<line x1="330.65" y1="343.40" x2="330.65" y2="345.70" stroke="#8a93a6" stroke-width="0.9"/>
<text x="330.65" y="355.20" font-size="7.0" text-anchor="middle" fill="#222" stroke="#222" stroke-width="0.15">30</text>
<line x1="343.70" y1="343.40" x2="343.70" y2="345.70" stroke="#8a93a6" stroke-width="0.9"/>
<text x="343.70" y="355.20" font-size="7.0" text-anchor="middle" fill="#222" stroke="#222" stroke-width="0.15">40</text>
<line x1="356.75" y1="343.40" x2="356.75" y2="345.70" stroke="#8a93a6" stroke-width="0.9"/>
<text x="356.75" y="355.20" font-size="7.0" text-anchor="middle" fill="#222" stroke="#222" stroke-width="0.15">50</text>
<line x1="369.80" y1="343.40" x2="369.80" y2="345.70" stroke="#8a93a6" stroke-width="0.9"/>
<text x="369.80" y="355.20" font-size="7.0" text-anchor="middle" fill="#222" stroke="#222" stroke-width="0.15">60</text>
<line x1="382.85" y1="343.40" x2="382.85" y2="345.70" stroke="#8a93a6" stroke-width="0.9"/>
<text x="382.85" y="355.20" font-size="7.0" text-anchor="middle" fill="#222" stroke="#222" stroke-width="0.15">70</text>
<line x1="395.90" y1="343.40" x2="395.90" y2="345.70" stroke="#8a93a6" stroke-width="0.9"/>
<text x="395.90" y="355.20" font-size="7.0" text-anchor="middle" fill="#222" stroke="#222" stroke-width="0.15">80</text>
<line x1="408.95" y1="343.40" x2="408.95" y2="345.70" stroke="#8a93a6" stroke-width="0.9"/>
<text x="408.95" y="355.20" font-size="7.0" text-anchor="middle" fill="#222" stroke="#222" stroke-width="0.15">90</text>
<line x1="422.00" y1="343.40" x2="422.00" y2="345.70" stroke="#8a93a6" stroke-width="0.9"/>
<text x="422.00" y="355.20" font-size="7.0" text-anchor="middle" fill="#222" stroke="#222" stroke-width="0.15">100</text>
<line x1="435.05" y1="343.40" x2="435.05" y2="345.70" stroke="#8a93a6" stroke-width="0.9"/>
<text x="435.05" y="355.20" font-size="7.0" text-anchor="middle" fill="#222" stroke="#222" stroke-width="0.15">110</text>
<line x1="448.10" y1="343.40" x2="448.10" y2="345.70" stroke="#8a93a6" stroke-width="0.9"/>
<text x="448.10" y="355.20" font-size="7.0" text-anchor="middle" fill="#222" stroke="#222" stroke-width="0.15">120</text>
<line x1="461.15" y1="343.40" x2="461.15" y2="345.70" stroke="#8a93a6" stroke-width="0.9"/>
<text x="461.15" y="355.20" font-size="7.0" text-anchor="middle" fill="#222" stroke="#222" stroke-width="0.15">130</text>
<line x1="474.20" y1="343.40" x2="474.20" y2="345.70" stroke="#8a93a6" stroke-width="0.9"/>
<text x="474.20" y="355.20" font-size="7.0" text-anchor="middle" fill="#222" stroke="#222" stroke-width="0.15">140</text>
<line x1="487.25" y1="343.40" x2="487.25" y2="345.70" stroke="#8a93a6" stroke-width="0.9"/>
<text x="487.25" y="355.20" font-size="7.0" text-anchor="middle" fill="#222" stroke="#222" stroke-width="0.15">150</text>
<text x="389.38" y="365.90" font-size="7.9" font-weight="bold" text-anchor="middle" fill="#111" stroke="#111" stroke-width="0.22">Days after start of treatment</text>
<text x="270.90" y="287.90" font-size="7.75" font-weight="bold" text-anchor="middle" fill="#111" stroke="#111" stroke-width="0.22" transform="rotate(-90 270.90 287.90)">Relative tumor volume</text>
<text x="382.90" y="222.00" font-size="9.3" font-weight="bold" text-anchor="middle" fill="#111" stroke="#111" stroke-width="0.26">AZD5363 + fulvestrant</text>
<polyline points="291.50,337.71 296.72,333.73 305.86,333.73 314.99,333.73 324.12,333.73 333.26,337.14 342.39,332.87 351.53,331.45 360.66,332.02 369.80,332.02 378.94,325.19 388.07,325.19 397.20,326.33 406.34,319.50 411.56,319.50 422.00,316.66 431.13,317.51 440.27,309.83 449.40,309.83 458.54,306.98 467.67,297.88" fill="none" stroke="#e9b7b8" stroke-width="1.5" stroke-linejoin="round"/>
<path d="M291.50,335.21 L294.00,337.71 L291.50,340.21 L289.00,337.71 Z" fill="#e9b7b8"/>
<path d="M296.72,331.23 L299.22,333.73 L296.72,336.23 L294.22,333.73 Z" fill="#e9b7b8"/>
<path d="M305.86,331.23 L308.36,333.73 L305.86,336.23 L303.36,333.73 Z" fill="#e9b7b8"/>
<path d="M314.99,331.23 L317.49,333.73 L314.99,336.23 L312.49,333.73 Z" fill="#e9b7b8"/>
<path d="M324.12,331.23 L326.62,333.73 L324.12,336.23 L321.62,333.73 Z" fill="#e9b7b8"/>
<path d="M333.26,334.64 L335.76,337.14 L333.26,339.64 L330.76,337.14 Z" fill="#e9b7b8"/>
<path d="M342.39,330.37 L344.89,332.87 L342.39,335.37 L339.89,332.87 Z" fill="#e9b7b8"/>
<path d="M351.53,328.95 L354.03,331.45 L351.53,333.95 L349.03,331.45 Z" fill="#e9b7b8"/>
<path d="M360.66,329.52 L363.16,332.02 L360.66,334.52 L358.16,332.02 Z" fill="#e9b7b8"/>
<path d="M369.80,329.52 L372.30,332.02 L369.80,334.52 L367.30,332.02 Z" fill="#e9b7b8"/>
<path d="M378.94,322.69 L381.44,325.19 L378.94,327.69 L376.44,325.19 Z" fill="#e9b7b8"/>
<path d="M388.07,322.69 L390.57,325.19 L388.07,327.69 L385.57,325.19 Z" fill="#e9b7b8"/>
<path d="M397.20,323.83 L399.70,326.33 L397.20,328.83 L394.70,326.33 Z" fill="#e9b7b8"/>
<path d="M406.34,317.00 L408.84,319.50 L406.34,322.00 L403.84,319.50 Z" fill="#e9b7b8"/>
<path d="M411.56,317.00 L414.06,319.50 L411.56,322.00 L409.06,319.50 Z" fill="#e9b7b8"/>
<path d="M422.00,314.16 L424.50,316.66 L422.00,319.16 L419.50,316.66 Z" fill="#e9b7b8"/>
<path d="M431.13,315.01 L433.63,317.51 L431.13,320.01 L428.63,317.51 Z" fill="#e9b7b8"/>
<path d="M440.27,307.33 L442.77,309.83 L440.27,312.33 L437.77,309.83 Z" fill="#e9b7b8"/>
<path d="M449.40,307.33 L451.90,309.83 L449.40,312.33 L446.90,309.83 Z" fill="#e9b7b8"/>
<path d="M458.54,304.48 L461.04,306.98 L458.54,309.48 L456.04,306.98 Z" fill="#e9b7b8"/>
<path d="M467.67,295.38 L470.17,297.88 L467.67,300.38 L465.17,297.88 Z" fill="#e9b7b8"/>
<polyline points="291.50,337.71 296.72,336.00 305.86,336.00 314.99,336.00 324.12,336.00 333.26,336.57 342.39,336.57 351.53,336.00 360.66,336.00 369.80,333.73 378.94,330.31 388.07,326.90 397.20,326.33 406.34,324.05 411.56,320.64 422.00,320.64 431.13,320.64 440.27,326.90 449.40,319.50 458.54,319.50" fill="none" stroke="#e9b7b8" stroke-width="1.5" stroke-linejoin="round"/>
<path d="M291.50,335.21 L294.00,337.71 L291.50,340.21 L289.00,337.71 Z" fill="#e9b7b8"/>
<path d="M296.72,333.50 L299.22,336.00 L296.72,338.50 L294.22,336.00 Z" fill="#e9b7b8"/>
<path d="M305.86,333.50 L308.36,336.00 L305.86,338.50 L303.36,336.00 Z" fill="#e9b7b8"/>
<path d="M314.99,333.50 L317.49,336.00 L314.99,338.50 L312.49,336.00 Z" fill="#e9b7b8"/>
<path d="M324.12,333.50 L326.62,336.00 L324.12,338.50 L321.62,336.00 Z" fill="#e9b7b8"/>
<path d="M333.26,334.07 L335.76,336.57 L333.26,339.07 L330.76,336.57 Z" fill="#e9b7b8"/>
<path d="M342.39,334.07 L344.89,336.57 L342.39,339.07 L339.89,336.57 Z" fill="#e9b7b8"/>
<path d="M351.53,333.50 L354.03,336.00 L351.53,338.50 L349.03,336.00 Z" fill="#e9b7b8"/>
<path d="M360.66,333.50 L363.16,336.00 L360.66,338.50 L358.16,336.00 Z" fill="#e9b7b8"/>
<path d="M369.80,331.23 L372.30,333.73 L369.80,336.23 L367.30,333.73 Z" fill="#e9b7b8"/>
<path d="M378.94,327.81 L381.44,330.31 L378.94,332.81 L376.44,330.31 Z" fill="#e9b7b8"/>
<path d="M388.07,324.40 L390.57,326.90 L388.07,329.40 L385.57,326.90 Z" fill="#e9b7b8"/>
<path d="M397.20,323.83 L399.70,326.33 L397.20,328.83 L394.70,326.33 Z" fill="#e9b7b8"/>
<path d="M406.34,321.55 L408.84,324.05 L406.34,326.55 L403.84,324.05 Z" fill="#e9b7b8"/>
<path d="M411.56,318.14 L414.06,320.64 L411.56,323.14 L409.06,320.64 Z" fill="#e9b7b8"/>
<path d="M422.00,318.14 L424.50,320.64 L422.00,323.14 L419.50,320.64 Z" fill="#e9b7b8"/>
<path d="M431.13,318.14 L433.63,320.64 L431.13,323.14 L428.63,320.64 Z" fill="#e9b7b8"/>
<path d="M440.27,324.40 L442.77,326.90 L440.27,329.40 L437.77,326.90 Z" fill="#e9b7b8"/>
<path d="M449.40,317.00 L451.90,319.50 L449.40,322.00 L446.90,319.50 Z" fill="#e9b7b8"/>
<path d="M458.54,317.00 L461.04,319.50 L458.54,322.00 L456.04,319.50 Z" fill="#e9b7b8"/>
<polyline points="291.50,337.71 296.72,337.71 305.86,337.71 314.99,337.71 324.12,337.71 333.26,338.85 342.39,338.85 351.53,337.71 360.66,336.57 369.80,336.00 378.94,334.30 388.07,330.88 397.20,326.90 406.34,326.90 411.56,326.90 422.00,326.90 431.13,326.90 440.27,326.33 449.40,326.33 458.54,326.33 467.67,326.33" fill="none" stroke="#e9b7b8" stroke-width="1.5" stroke-linejoin="round"/>
<path d="M291.50,335.21 L294.00,337.71 L291.50,340.21 L289.00,337.71 Z" fill="#e9b7b8"/>
<path d="M296.72,335.21 L299.22,337.71 L296.72,340.21 L294.22,337.71 Z" fill="#e9b7b8"/>
<path d="M305.86,335.21 L308.36,337.71 L305.86,340.21 L303.36,337.71 Z" fill="#e9b7b8"/>
<path d="M314.99,335.21 L317.49,337.71 L314.99,340.21 L312.49,337.71 Z" fill="#e9b7b8"/>
<path d="M324.12,335.21 L326.62,337.71 L324.12,340.21 L321.62,337.71 Z" fill="#e9b7b8"/>
<path d="M333.26,336.35 L335.76,338.85 L333.26,341.35 L330.76,338.85 Z" fill="#e9b7b8"/>
<path d="M342.39,336.35 L344.89,338.85 L342.39,341.35 L339.89,338.85 Z" fill="#e9b7b8"/>
<path d="M351.53,335.21 L354.03,337.71 L351.53,340.21 L349.03,337.71 Z" fill="#e9b7b8"/>
<path d="M360.66,334.07 L363.16,336.57 L360.66,339.07 L358.16,336.57 Z" fill="#e9b7b8"/>
<path d="M369.80,333.50 L372.30,336.00 L369.80,338.50 L367.30,336.00 Z" fill="#e9b7b8"/>
<path d="M378.94,331.80 L381.44,334.30 L378.94,336.80 L376.44,334.30 Z" fill="#e9b7b8"/>
<path d="M388.07,328.38 L390.57,330.88 L388.07,333.38 L385.57,330.88 Z" fill="#e9b7b8"/>
<path d="M397.20,324.40 L399.70,326.90 L397.20,329.40 L394.70,326.90 Z" fill="#e9b7b8"/>
<path d="M406.34,324.40 L408.84,326.90 L406.34,329.40 L403.84,326.90 Z" fill="#e9b7b8"/>
<path d="M411.56,324.40 L414.06,326.90 L411.56,329.40 L409.06,326.90 Z" fill="#e9b7b8"/>
<path d="M422.00,324.40 L424.50,326.90 L422.00,329.40 L419.50,326.90 Z" fill="#e9b7b8"/>
<path d="M431.13,324.40 L433.63,326.90 L431.13,329.40 L428.63,326.90 Z" fill="#e9b7b8"/>
<path d="M440.27,323.83 L442.77,326.33 L440.27,328.83 L437.77,326.33 Z" fill="#e9b7b8"/>
<path d="M449.40,323.83 L451.90,326.33 L449.40,328.83 L446.90,326.33 Z" fill="#e9b7b8"/>
<path d="M458.54,323.83 L461.04,326.33 L458.54,328.83 L456.04,326.33 Z" fill="#e9b7b8"/>
<path d="M467.67,323.83 L470.17,326.33 L467.67,328.83 L465.17,326.33 Z" fill="#e9b7b8"/>
<polyline points="291.50,338.85 296.72,338.85 305.86,338.85 314.99,338.85 324.12,338.85 333.26,338.85 342.39,338.85 351.53,338.85 360.66,338.85 369.80,337.71 378.94,336.57 388.07,336.00 397.20,336.00 406.34,335.83 411.56,335.83 422.00,335.83 431.13,335.83 440.27,330.88 449.40,327.13 458.54,327.13 467.67,327.13" fill="none" stroke="#e9b7b8" stroke-width="1.5" stroke-linejoin="round"/>
<path d="M291.50,336.35 L294.00,338.85 L291.50,341.35 L289.00,338.85 Z" fill="#e9b7b8"/>
<path d="M296.72,336.35 L299.22,338.85 L296.72,341.35 L294.22,338.85 Z" fill="#e9b7b8"/>
<path d="M305.86,336.35 L308.36,338.85 L305.86,341.35 L303.36,338.85 Z" fill="#e9b7b8"/>
<path d="M314.99,336.35 L317.49,338.85 L314.99,341.35 L312.49,338.85 Z" fill="#e9b7b8"/>
<path d="M324.12,336.35 L326.62,338.85 L324.12,341.35 L321.62,338.85 Z" fill="#e9b7b8"/>
<path d="M333.26,336.35 L335.76,338.85 L333.26,341.35 L330.76,338.85 Z" fill="#e9b7b8"/>
<path d="M342.39,336.35 L344.89,338.85 L342.39,341.35 L339.89,338.85 Z" fill="#e9b7b8"/>
<path d="M351.53,336.35 L354.03,338.85 L351.53,341.35 L349.03,338.85 Z" fill="#e9b7b8"/>
<path d="M360.66,336.35 L363.16,338.85 L360.66,341.35 L358.16,338.85 Z" fill="#e9b7b8"/>
<path d="M369.80,335.21 L372.30,337.71 L369.80,340.21 L367.30,337.71 Z" fill="#e9b7b8"/>
<path d="M378.94,334.07 L381.44,336.57 L378.94,339.07 L376.44,336.57 Z" fill="#e9b7b8"/>
<path d="M388.07,333.50 L390.57,336.00 L388.07,338.50 L385.57,336.00 Z" fill="#e9b7b8"/>
<path d="M397.20,333.50 L399.70,336.00 L397.20,338.50 L394.70,336.00 Z" fill="#e9b7b8"/>
<path d="M406.34,333.33 L408.84,335.83 L406.34,338.33 L403.84,335.83 Z" fill="#e9b7b8"/>
<path d="M411.56,333.33 L414.06,335.83 L411.56,338.33 L409.06,335.83 Z" fill="#e9b7b8"/>
<path d="M422.00,333.33 L424.50,335.83 L422.00,338.33 L419.50,335.83 Z" fill="#e9b7b8"/>
<path d="M431.13,333.33 L433.63,335.83 L431.13,338.33 L428.63,335.83 Z" fill="#e9b7b8"/>
<path d="M440.27,328.38 L442.77,330.88 L440.27,333.38 L437.77,330.88 Z" fill="#e9b7b8"/>
<path d="M449.40,324.63 L451.90,327.13 L449.40,329.63 L446.90,327.13 Z" fill="#e9b7b8"/>
<path d="M458.54,324.63 L461.04,327.13 L458.54,329.63 L456.04,327.13 Z" fill="#e9b7b8"/>
<path d="M467.67,324.63 L470.17,327.13 L467.67,329.63 L465.17,327.13 Z" fill="#e9b7b8"/>
<polyline points="291.50,337.71 296.72,339.13 305.86,339.13 314.99,339.13 324.12,339.13 333.26,339.13 342.39,339.13 351.53,339.13 360.66,339.13 369.80,338.28 378.94,337.71 388.07,337.31 397.20,337.31 406.34,337.31 411.56,337.31 422.00,337.31 431.13,337.31 440.27,337.31 449.40,337.31 458.54,337.31" fill="none" stroke="#e9b7b8" stroke-width="1.5" stroke-linejoin="round"/>
<path d="M291.50,335.21 L294.00,337.71 L291.50,340.21 L289.00,337.71 Z" fill="#e9b7b8"/>
<path d="M296.72,336.63 L299.22,339.13 L296.72,341.63 L294.22,339.13 Z" fill="#e9b7b8"/>
<path d="M305.86,336.63 L308.36,339.13 L305.86,341.63 L303.36,339.13 Z" fill="#e9b7b8"/>
<path d="M314.99,336.63 L317.49,339.13 L314.99,341.63 L312.49,339.13 Z" fill="#e9b7b8"/>
<path d="M324.12,336.63 L326.62,339.13 L324.12,341.63 L321.62,339.13 Z" fill="#e9b7b8"/>
<path d="M333.26,336.63 L335.76,339.13 L333.26,341.63 L330.76,339.13 Z" fill="#e9b7b8"/>
<path d="M342.39,336.63 L344.89,339.13 L342.39,341.63 L339.89,339.13 Z" fill="#e9b7b8"/>
<path d="M351.53,336.63 L354.03,339.13 L351.53,341.63 L349.03,339.13 Z" fill="#e9b7b8"/>
<path d="M360.66,336.63 L363.16,339.13 L360.66,341.63 L358.16,339.13 Z" fill="#e9b7b8"/>
<path d="M369.80,335.78 L372.30,338.28 L369.80,340.78 L367.30,338.28 Z" fill="#e9b7b8"/>
<path d="M378.94,335.21 L381.44,337.71 L378.94,340.21 L376.44,337.71 Z" fill="#e9b7b8"/>
<path d="M388.07,334.81 L390.57,337.31 L388.07,339.81 L385.57,337.31 Z" fill="#e9b7b8"/>
<path d="M397.20,334.81 L399.70,337.31 L397.20,339.81 L394.70,337.31 Z" fill="#e9b7b8"/>
<path d="M406.34,334.81 L408.84,337.31 L406.34,339.81 L403.84,337.31 Z" fill="#e9b7b8"/>
<path d="M411.56,334.81 L414.06,337.31 L411.56,339.81 L409.06,337.31 Z" fill="#e9b7b8"/>
<path d="M422.00,334.81 L424.50,337.31 L422.00,339.81 L419.50,337.31 Z" fill="#e9b7b8"/>
<path d="M431.13,334.81 L433.63,337.31 L431.13,339.81 L428.63,337.31 Z" fill="#e9b7b8"/>
<path d="M440.27,334.81 L442.77,337.31 L440.27,339.81 L437.77,337.31 Z" fill="#e9b7b8"/>
<path d="M449.40,334.81 L451.90,337.31 L449.40,339.81 L446.90,337.31 Z" fill="#e9b7b8"/>
<path d="M458.54,334.81 L461.04,337.31 L458.54,339.81 L456.04,337.31 Z" fill="#e9b7b8"/>
<path d="M405.85,246.30 H410.15 V281.70 H412.60 L408.00,287.50 L403.40,281.70 H405.85 Z" fill="#d0323c" stroke="#5a1618" stroke-width="0.9"/>
<text x="409.00" y="241.10" font-size="9.2" text-anchor="middle" fill="#222" stroke="#222" stroke-width="0.20">stop</text>
<text x="5.60" y="395.20" font-size="13.4" font-weight="bold" text-anchor="start" fill="#111" stroke="#111" stroke-width="0.38">C</text>
<line x1="34.50" y1="411.98" x2="34.50" y2="567.00" stroke="#111" stroke-width="1.2"/>
<line x1="34.50" y1="566.40" x2="292.00" y2="566.40" stroke="#111" stroke-width="1.2"/>
<line x1="31.60" y1="566.40" x2="34.50" y2="566.40" stroke="#111" stroke-width="1.0"/>
<text x="30.70" y="568.90" font-size="7.0" font-weight="bold" text-anchor="end" fill="#111" stroke="#111" stroke-width="0.20">0</text>
<line x1="31.60" y1="554.56" x2="34.50" y2="554.56" stroke="#111" stroke-width="1.0"/>
<text x="30.70" y="557.06" font-size="7.0" font-weight="bold" text-anchor="end" fill="#111" stroke="#111" stroke-width="0.20">100</text>
<line x1="31.60" y1="542.72" x2="34.50" y2="542.72" stroke="#111" stroke-width="1.0"/>
<text x="30.70" y="545.22" font-size="7.0" font-weight="bold" text-anchor="end" fill="#111" stroke="#111" stroke-width="0.20">200</text>
<line x1="31.60" y1="530.88" x2="34.50" y2="530.88" stroke="#111" stroke-width="1.0"/>
<text x="30.70" y="533.38" font-size="7.0" font-weight="bold" text-anchor="end" fill="#111" stroke="#111" stroke-width="0.20">300</text>
<line x1="31.60" y1="519.04" x2="34.50" y2="519.04" stroke="#111" stroke-width="1.0"/>
<text x="30.70" y="521.54" font-size="7.0" font-weight="bold" text-anchor="end" fill="#111" stroke="#111" stroke-width="0.20">400</text>
<line x1="31.60" y1="507.20" x2="34.50" y2="507.20" stroke="#111" stroke-width="1.0"/>
<text x="30.70" y="509.70" font-size="7.0" font-weight="bold" text-anchor="end" fill="#111" stroke="#111" stroke-width="0.20">500</text>
<line x1="31.60" y1="495.36" x2="34.50" y2="495.36" stroke="#111" stroke-width="1.0"/>
<text x="30.70" y="497.86" font-size="7.0" font-weight="bold" text-anchor="end" fill="#111" stroke="#111" stroke-width="0.20">600</text>
<line x1="31.60" y1="483.52" x2="34.50" y2="483.52" stroke="#111" stroke-width="1.0"/>
<text x="30.70" y="486.02" font-size="7.0" font-weight="bold" text-anchor="end" fill="#111" stroke="#111" stroke-width="0.20">700</text>
<line x1="31.60" y1="471.68" x2="34.50" y2="471.68" stroke="#111" stroke-width="1.0"/>
<text x="30.70" y="474.18" font-size="7.0" font-weight="bold" text-anchor="end" fill="#111" stroke="#111" stroke-width="0.20">800</text>
<line x1="31.60" y1="459.84" x2="34.50" y2="459.84" stroke="#111" stroke-width="1.0"/>
<text x="30.70" y="462.34" font-size="7.0" font-weight="bold" text-anchor="end" fill="#111" stroke="#111" stroke-width="0.20">900</text>
<line x1="31.60" y1="448.00" x2="34.50" y2="448.00" stroke="#111" stroke-width="1.0"/>
<text x="30.70" y="450.50" font-size="7.0" font-weight="bold" text-anchor="end" fill="#111" stroke="#111" stroke-width="0.20">1,000</text>
<line x1="31.60" y1="436.16" x2="34.50" y2="436.16" stroke="#111" stroke-width="1.0"/>
<text x="30.70" y="438.66" font-size="7.0" font-weight="bold" text-anchor="end" fill="#111" stroke="#111" stroke-width="0.20">1,100</text>
<line x1="31.60" y1="424.32" x2="34.50" y2="424.32" stroke="#111" stroke-width="1.0"/>
<text x="30.70" y="426.82" font-size="7.0" font-weight="bold" text-anchor="end" fill="#111" stroke="#111" stroke-width="0.20">1,200</text>
<line x1="31.60" y1="412.48" x2="34.50" y2="412.48" stroke="#111" stroke-width="1.0"/>
<text x="30.70" y="414.98" font-size="7.0" font-weight="bold" text-anchor="end" fill="#111" stroke="#111" stroke-width="0.20">1,300</text>
<text x="6.20" y="488.20" font-size="7.8" font-weight="bold" text-anchor="middle" fill="#111" stroke="#111" stroke-width="0.22" transform="rotate(-90 6.20 488.20)">Biomarker signal (% control)</text>
<rect x="38.00" y="551.60" width="6.20" height="14.80" fill="#2b3192"/>
<line x1="41.10" y1="550.42" x2="41.10" y2="552.78" stroke="#2a2020" stroke-width="1.1"/>
<line x1="39.10" y1="550.42" x2="43.10" y2="550.42" stroke="#2a2020" stroke-width="1.1"/>
<line x1="39.10" y1="552.78" x2="43.10" y2="552.78" stroke="#2a2020" stroke-width="1.1"/>
<rect x="45.80" y="548.05" width="6.20" height="18.35" fill="#e0282f"/>
<line x1="48.90" y1="546.63" x2="48.90" y2="549.47" stroke="#2a2020" stroke-width="1.1"/>
<line x1="46.90" y1="546.63" x2="50.90" y2="546.63" stroke="#2a2020" stroke-width="1.1"/>
<line x1="46.90" y1="549.47" x2="50.90" y2="549.47" stroke="#2a2020" stroke-width="1.1"/>
<rect x="53.60" y="537.98" width="6.20" height="28.42" fill="#2b7b3b"/>
<line x1="56.70" y1="534.43" x2="56.70" y2="541.54" stroke="#2a2020" stroke-width="1.1"/>
<line x1="54.70" y1="534.43" x2="58.70" y2="534.43" stroke="#2a2020" stroke-width="1.1"/>
<line x1="54.70" y1="541.54" x2="58.70" y2="541.54" stroke="#2a2020" stroke-width="1.1"/>
<rect x="61.40" y="526.85" width="6.20" height="39.55" fill="#ec8a34"/>
<line x1="64.50" y1="521.53" x2="64.50" y2="532.18" stroke="#2a2020" stroke-width="1.1"/>
<line x1="62.50" y1="521.53" x2="66.50" y2="521.53" stroke="#2a2020" stroke-width="1.1"/>
<line x1="62.50" y1="532.18" x2="66.50" y2="532.18" stroke="#2a2020" stroke-width="1.1"/>
<rect x="69.20" y="540.12" width="6.20" height="26.28" fill="#d062c0"/>
<line x1="72.30" y1="535.38" x2="72.30" y2="544.85" stroke="#2a2020" stroke-width="1.1"/>
<line x1="70.30" y1="535.38" x2="74.30" y2="535.38" stroke="#2a2020" stroke-width="1.1"/>
<line x1="70.30" y1="544.85" x2="74.30" y2="544.85" stroke="#2a2020" stroke-width="1.1"/>
<rect x="77.00" y="530.64" width="6.20" height="35.76" fill="#6b2918"/>
<line x1="80.10" y1="528.04" x2="80.10" y2="533.25" stroke="#2a2020" stroke-width="1.1"/>
<line x1="78.10" y1="528.04" x2="82.10" y2="528.04" stroke="#2a2020" stroke-width="1.1"/>
<line x1="78.10" y1="533.25" x2="82.10" y2="533.25" stroke="#2a2020" stroke-width="1.1"/>
<line x1="60.60" y1="566.40" x2="60.60" y2="569.40" stroke="#111" stroke-width="1.0"/>
<text x="63.10" y="572.90" font-size="7.0" font-weight="bold" text-anchor="end" fill="#111" stroke="#111" stroke-width="0.20" transform="rotate(-45 63.10 572.90)">pAKT(S473)</text>
<rect x="89.65" y="553.38" width="6.20" height="13.02" fill="#2b3192"/>
<line x1="92.75" y1="552.43" x2="92.75" y2="554.32" stroke="#2a2020" stroke-width="1.1"/>
<line x1="90.75" y1="552.43" x2="94.75" y2="552.43" stroke="#2a2020" stroke-width="1.1"/>
<line x1="90.75" y1="554.32" x2="94.75" y2="554.32" stroke="#2a2020" stroke-width="1.1"/>
<rect x="97.45" y="546.75" width="6.20" height="19.65" fill="#e0282f"/>
<line x1="100.55" y1="545.32" x2="100.55" y2="548.17" stroke="#2a2020" stroke-width="1.1"/>
<line x1="98.55" y1="545.32" x2="102.55" y2="545.32" stroke="#2a2020" stroke-width="1.1"/>
<line x1="98.55" y1="548.17" x2="102.55" y2="548.17" stroke="#2a2020" stroke-width="1.1"/>
<rect x="105.25" y="513.83" width="6.20" height="52.57" fill="#2b7b3b"/>
<line x1="108.35" y1="508.50" x2="108.35" y2="519.16" stroke="#2a2020" stroke-width="1.1"/>
<line x1="106.35" y1="508.50" x2="110.35" y2="508.50" stroke="#2a2020" stroke-width="1.1"/>
<line x1="106.35" y1="519.16" x2="110.35" y2="519.16" stroke="#2a2020" stroke-width="1.1"/>
<rect x="113.05" y="507.67" width="6.20" height="58.73" fill="#ec8a34"/>
<line x1="116.15" y1="495.83" x2="116.15" y2="519.51" stroke="#2a2020" stroke-width="1.1"/>
<line x1="114.15" y1="495.83" x2="118.15" y2="495.83" stroke="#2a2020" stroke-width="1.1"/>
<line x1="114.15" y1="519.51" x2="118.15" y2="519.51" stroke="#2a2020" stroke-width="1.1"/>
<rect x="120.85" y="522.83" width="6.20" height="43.57" fill="#d062c0"/>
<line x1="123.95" y1="521.05" x2="123.95" y2="524.60" stroke="#2a2020" stroke-width="1.1"/>
<line x1="121.95" y1="521.05" x2="125.95" y2="521.05" stroke="#2a2020" stroke-width="1.1"/>
<line x1="121.95" y1="524.60" x2="125.95" y2="524.60" stroke="#2a2020" stroke-width="1.1"/>
<rect x="128.65" y="480.20" width="6.20" height="86.20" fill="#6b2918"/>
<line x1="131.75" y1="470.73" x2="131.75" y2="489.68" stroke="#2a2020" stroke-width="1.1"/>
<line x1="129.75" y1="470.73" x2="133.75" y2="470.73" stroke="#2a2020" stroke-width="1.1"/>
<line x1="129.75" y1="489.68" x2="133.75" y2="489.68" stroke="#2a2020" stroke-width="1.1"/>
<line x1="112.25" y1="566.40" x2="112.25" y2="569.40" stroke="#111" stroke-width="1.0"/>
<text x="114.75" y="572.90" font-size="7.0" font-weight="bold" text-anchor="end" fill="#111" stroke="#111" stroke-width="0.20" transform="rotate(-45 114.75 572.90)">pAKT(T308)</text>
<rect x="141.30" y="552.55" width="6.20" height="13.85" fill="#2b3192"/>
<rect x="149.10" y="550.18" width="6.20" height="16.22" fill="#e0282f"/>
<rect x="156.90" y="560.01" width="6.20" height="6.39" fill="#2b7b3b"/>
<rect x="164.70" y="555.98" width="6.20" height="10.42" fill="#ec8a34"/>
<line x1="167.80" y1="554.56" x2="167.80" y2="557.40" stroke="#2a2020" stroke-width="1.1"/>
<line x1="165.80" y1="554.56" x2="169.80" y2="554.56" stroke="#2a2020" stroke-width="1.1"/>
<line x1="165.80" y1="557.40" x2="169.80" y2="557.40" stroke="#2a2020" stroke-width="1.1"/>
<rect x="172.50" y="560.72" width="6.20" height="5.68" fill="#d062c0"/>
<line x1="175.60" y1="560.01" x2="175.60" y2="561.43" stroke="#2a2020" stroke-width="1.1"/>
<line x1="173.60" y1="560.01" x2="177.60" y2="560.01" stroke="#2a2020" stroke-width="1.1"/>
<line x1="173.60" y1="561.43" x2="177.60" y2="561.43" stroke="#2a2020" stroke-width="1.1"/>
<rect x="180.30" y="552.55" width="6.20" height="13.85" fill="#6b2918"/>
<line x1="163.90" y1="566.40" x2="163.90" y2="569.40" stroke="#111" stroke-width="1.0"/>
<text x="166.40" y="572.90" font-size="7.0" font-weight="bold" text-anchor="end" fill="#111" stroke="#111" stroke-width="0.20" transform="rotate(-45 166.40 572.90)">pPRAS40(T246)</text>
<rect x="192.95" y="552.55" width="6.20" height="13.85" fill="#2b3192"/>
<line x1="196.05" y1="549.59" x2="196.05" y2="555.51" stroke="#2a2020" stroke-width="1.1"/>
<line x1="194.05" y1="549.59" x2="198.05" y2="549.59" stroke="#2a2020" stroke-width="1.1"/>
<line x1="194.05" y1="555.51" x2="198.05" y2="555.51" stroke="#2a2020" stroke-width="1.1"/>
<rect x="200.75" y="550.30" width="6.20" height="16.10" fill="#e0282f"/>
<line x1="203.85" y1="549.71" x2="203.85" y2="550.89" stroke="#2a2020" stroke-width="1.1"/>
<line x1="201.85" y1="549.71" x2="205.85" y2="549.71" stroke="#2a2020" stroke-width="1.1"/>
<line x1="201.85" y1="550.89" x2="205.85" y2="550.89" stroke="#2a2020" stroke-width="1.1"/>
<rect x="208.55" y="462.56" width="6.20" height="103.84" fill="#2b7b3b"/>
<line x1="211.65" y1="421.12" x2="211.65" y2="504.00" stroke="#2a2020" stroke-width="1.1"/>
<line x1="209.65" y1="421.12" x2="213.65" y2="421.12" stroke="#2a2020" stroke-width="1.1"/>
<line x1="209.65" y1="504.00" x2="213.65" y2="504.00" stroke="#2a2020" stroke-width="1.1"/>
<rect x="216.35" y="485.06" width="6.20" height="81.34" fill="#ec8a34"/>
<line x1="219.45" y1="468.48" x2="219.45" y2="501.64" stroke="#2a2020" stroke-width="1.1"/>
<line x1="217.45" y1="468.48" x2="221.45" y2="468.48" stroke="#2a2020" stroke-width="1.1"/>
<line x1="217.45" y1="501.64" x2="221.45" y2="501.64" stroke="#2a2020" stroke-width="1.1"/>
<rect x="224.15" y="540.59" width="6.20" height="25.81" fill="#d062c0"/>
<line x1="227.25" y1="535.26" x2="227.25" y2="545.92" stroke="#2a2020" stroke-width="1.1"/>
<line x1="225.25" y1="535.26" x2="229.25" y2="535.26" stroke="#2a2020" stroke-width="1.1"/>
<line x1="225.25" y1="545.92" x2="229.25" y2="545.92" stroke="#2a2020" stroke-width="1.1"/>
<rect x="231.95" y="495.24" width="6.20" height="71.16" fill="#6b2918"/>
<line x1="235.05" y1="479.85" x2="235.05" y2="510.63" stroke="#2a2020" stroke-width="1.1"/>
<line x1="233.05" y1="479.85" x2="237.05" y2="479.85" stroke="#2a2020" stroke-width="1.1"/>
<line x1="233.05" y1="510.63" x2="237.05" y2="510.63" stroke="#2a2020" stroke-width="1.1"/>
<line x1="215.55" y1="566.40" x2="215.55" y2="569.40" stroke="#111" stroke-width="1.0"/>
<text x="218.05" y="572.90" font-size="7.0" font-weight="bold" text-anchor="end" fill="#111" stroke="#111" stroke-width="0.20" transform="rotate(-45 218.05 572.90)">PGR</text>
<rect x="244.60" y="552.55" width="6.20" height="13.85" fill="#2b3192"/>
<line x1="247.70" y1="550.42" x2="247.70" y2="554.68" stroke="#2a2020" stroke-width="1.1"/>
<line x1="245.70" y1="550.42" x2="249.70" y2="550.42" stroke="#2a2020" stroke-width="1.1"/>
<line x1="245.70" y1="554.68" x2="249.70" y2="554.68" stroke="#2a2020" stroke-width="1.1"/>
<rect x="252.40" y="549.23" width="6.20" height="17.17" fill="#e0282f"/>
<line x1="255.50" y1="548.28" x2="255.50" y2="550.18" stroke="#2a2020" stroke-width="1.1"/>
<line x1="253.50" y1="548.28" x2="257.50" y2="548.28" stroke="#2a2020" stroke-width="1.1"/>
<line x1="253.50" y1="550.18" x2="257.50" y2="550.18" stroke="#2a2020" stroke-width="1.1"/>
<rect x="260.20" y="548.05" width="6.20" height="18.35" fill="#2b7b3b"/>
<line x1="263.30" y1="547.10" x2="263.30" y2="549.00" stroke="#2a2020" stroke-width="1.1"/>
<line x1="261.30" y1="547.10" x2="265.30" y2="547.10" stroke="#2a2020" stroke-width="1.1"/>
<line x1="261.30" y1="549.00" x2="265.30" y2="549.00" stroke="#2a2020" stroke-width="1.1"/>
<rect x="268.00" y="545.32" width="6.20" height="21.08" fill="#ec8a34"/>
<line x1="271.10" y1="540.83" x2="271.10" y2="549.82" stroke="#2a2020" stroke-width="1.1"/>
<line x1="269.10" y1="540.83" x2="273.10" y2="540.83" stroke="#2a2020" stroke-width="1.1"/>
<line x1="269.10" y1="549.82" x2="273.10" y2="549.82" stroke="#2a2020" stroke-width="1.1"/>
<rect x="275.80" y="553.38" width="6.20" height="13.02" fill="#d062c0"/>
<line x1="278.90" y1="550.42" x2="278.90" y2="556.34" stroke="#2a2020" stroke-width="1.1"/>
<line x1="276.90" y1="550.42" x2="280.90" y2="550.42" stroke="#2a2020" stroke-width="1.1"/>
<line x1="276.90" y1="556.34" x2="280.90" y2="556.34" stroke="#2a2020" stroke-width="1.1"/>
<rect x="283.60" y="552.55" width="6.20" height="13.85" fill="#6b2918"/>
<line x1="286.70" y1="551.96" x2="286.70" y2="553.14" stroke="#2a2020" stroke-width="1.1"/>
<line x1="284.70" y1="551.96" x2="288.70" y2="551.96" stroke="#2a2020" stroke-width="1.1"/>
<line x1="284.70" y1="553.14" x2="288.70" y2="553.14" stroke="#2a2020" stroke-width="1.1"/>
<line x1="267.20" y1="566.40" x2="267.20" y2="569.40" stroke="#111" stroke-width="1.0"/>
<text x="269.70" y="572.90" font-size="7.0" font-weight="bold" text-anchor="end" fill="#111" stroke="#111" stroke-width="0.20" transform="rotate(-45 269.70 572.90)">p4EBP1(T37/46)</text>
<path d="M40.20,547.60 V511.50 H64.90 V514.40" fill="none" stroke="#333" stroke-width="1.05"/>
<text x="52.50" y="510.50" font-size="7.6" font-weight="bold" text-anchor="middle" fill="#111" stroke="#111" stroke-width="0.21">**</text>
<path d="M89.70,546.60 V483.50 H114.40 V487.20" fill="none" stroke="#333" stroke-width="1.05"/>
<text x="102.20" y="483.80" font-size="7.6" font-weight="bold" text-anchor="middle" fill="#111" stroke="#111" stroke-width="0.21">***</text>
<path d="M93.60,546.60 V496.50 H108.30 V500.00" fill="none" stroke="#333" stroke-width="1.05"/>
<text x="100.90" y="496.80" font-size="7.6" font-weight="bold" text-anchor="middle" fill="#111" stroke="#111" stroke-width="0.21">**</text>
<path d="M144.20,548.30 V539.50 H159.60 V554.30" fill="none" stroke="#333" stroke-width="1.05"/>
<text x="151.90" y="540.20" font-size="7.6" font-weight="bold" text-anchor="middle" fill="#111" stroke="#111" stroke-width="0.21">**</text>
<path d="M194.20,549.00 V416.50 H209.70 V419.60" fill="none" stroke="#333" stroke-width="1.05"/>
<text x="202.20" y="416.80" font-size="7.6" font-weight="bold" text-anchor="middle" fill="#111" stroke="#111" stroke-width="0.21">*</text>
<rect x="233.10" y="416.20" width="10.80" height="4.00" fill="#2b3192"/>
<text x="246.90" y="420.40" font-size="6.15" text-anchor="start" fill="#1a1a1a" stroke="#1a1a1a" stroke-width="0.14">Vehicle 4 h</text>
<rect x="233.10" y="426.34" width="10.80" height="4.00" fill="#e0282f"/>
<text x="246.90" y="430.54" font-size="6.15" text-anchor="start" fill="#1a1a1a" stroke="#1a1a1a" stroke-width="0.14">Fulvestrant 4 h</text>
<rect x="233.10" y="436.48" width="10.80" height="4.00" fill="#2b7b3b"/>
<text x="246.90" y="440.68" font-size="6.15" text-anchor="start" fill="#1a1a1a" stroke="#1a1a1a" stroke-width="0.14">AZD5363 2 h</text>
<rect x="233.10" y="446.62" width="10.80" height="4.00" fill="#ec8a34"/>
<text x="246.90" y="450.82" font-size="6.15" text-anchor="start" fill="#1a1a1a" stroke="#1a1a1a" stroke-width="0.14">AZD5363 4 h</text>
<rect x="233.10" y="456.76" width="10.80" height="4.00" fill="#d062c0"/>
<text x="246.90" y="460.96" font-size="6.15" text-anchor="start" fill="#1a1a1a" stroke="#1a1a1a" stroke-width="0.14">AZD5363 + fulvestrant 2 h</text>
<rect x="233.10" y="466.90" width="10.80" height="4.00" fill="#6b2918"/>
<text x="246.90" y="471.10" font-size="6.15" text-anchor="start" fill="#1a1a1a" stroke="#1a1a1a" stroke-width="0.14">AZD5363 + fulvestrant 4 h</text>
<text x="329.80" y="395.20" font-size="13.4" font-weight="bold" text-anchor="start" fill="#111" stroke="#111" stroke-width="0.38">D</text>
<text x="378.80" y="405.00" font-size="8.2" font-weight="bold" text-anchor="start" fill="#1a1a1a" stroke="#1a1a1a" stroke-width="0.23">ER-dependent transcription</text>
<text x="369.85" y="414.60" font-size="4.6" font-weight="bold" text-anchor="middle" fill="#222" stroke="#222" stroke-width="0.13">Fulv</text>
<text x="369.85" y="419.60" font-size="4.6" font-weight="bold" text-anchor="middle" fill="#222" stroke="#222" stroke-width="0.13">4 h</text>
<text x="402.35" y="414.60" font-size="4.6" font-weight="bold" text-anchor="middle" fill="#222" stroke="#222" stroke-width="0.13">AZD5363</text>
<text x="402.35" y="419.60" font-size="4.6" font-weight="bold" text-anchor="middle" fill="#222" stroke="#222" stroke-width="0.13">2 h</text>
<text x="434.45" y="414.60" font-size="4.6" font-weight="bold" text-anchor="middle" fill="#222" stroke="#222" stroke-width="0.13">AZD5363+fulv</text>
<text x="434.45" y="419.60" font-size="4.6" font-weight="bold" text-anchor="middle" fill="#222" stroke="#222" stroke-width="0.13">2 h</text>
<text x="466.55" y="414.60" font-size="4.6" font-weight="bold" text-anchor="middle" fill="#222" stroke="#222" stroke-width="0.13">AZD5363</text>
<text x="466.55" y="419.60" font-size="4.6" font-weight="bold" text-anchor="middle" fill="#222" stroke="#222" stroke-width="0.13">4 h</text>
<text x="498.95" y="414.60" font-size="4.6" font-weight="bold" text-anchor="middle" fill="#222" stroke="#222" stroke-width="0.13">AZD5363+fulv</text>
<text x="498.95" y="419.60" font-size="4.6" font-weight="bold" text-anchor="middle" fill="#222" stroke="#222" stroke-width="0.13">4 h</text>
<rect x="353.50" y="420.80" width="33.00" height="7.05" fill="#454bb6" shape-rendering="crispEdges"/>
<rect x="386.20" y="420.80" width="32.60" height="7.05" fill="#8a8a9c" shape-rendering="crispEdges"/>
<rect x="418.50" y="420.80" width="32.20" height="7.05" fill="#3c42bc" shape-rendering="crispEdges"/>
<rect x="450.40" y="420.80" width="32.60" height="7.05" fill="#96947e" shape-rendering="crispEdges"/>
<rect x="482.70" y="420.80" width="32.80" height="7.05" fill="#8c8c90" shape-rendering="crispEdges"/>
<text x="341.00" y="425.78" font-size="4.5" font-weight="bold" text-anchor="middle" fill="#222" stroke="#222" stroke-width="0.13">CXCL12</text>
<rect x="353.50" y="427.55" width="33.00" height="7.05" fill="#5556ad" shape-rendering="crispEdges"/>
<rect x="386.20" y="427.55" width="32.60" height="7.05" fill="#909090" shape-rendering="crispEdges"/>
<rect x="418.50" y="427.55" width="32.20" height="7.05" fill="#4048bc" shape-rendering="crispEdges"/>
<rect x="450.40" y="427.55" width="32.60" height="7.05" fill="#aeaa62" shape-rendering="crispEdges"/>
<rect x="482.70" y="427.55" width="32.80" height="7.05" fill="#a4a070" shape-rendering="crispEdges"/>
<text x="341.00" y="432.53" font-size="4.5" font-weight="bold" text-anchor="middle" fill="#222" stroke="#222" stroke-width="0.13">C3</text>
<rect x="353.50" y="434.31" width="33.00" height="7.05" fill="#5558aa" shape-rendering="crispEdges"/>
<rect x="386.20" y="434.31" width="32.60" height="7.05" fill="#9a9880" shape-rendering="crispEdges"/>
<rect x="418.50" y="434.31" width="32.20" height="7.05" fill="#3e44bc" shape-rendering="crispEdges"/>
<rect x="450.40" y="434.31" width="32.60" height="7.05" fill="#e0dc30" shape-rendering="crispEdges"/>
<rect x="482.70" y="434.31" width="32.80" height="7.05" fill="#5456ae" shape-rendering="crispEdges"/>
<text x="341.00" y="439.28" font-size="4.5" font-weight="bold" text-anchor="middle" fill="#222" stroke="#222" stroke-width="0.13">TFF1</text>
<rect x="353.50" y="441.06" width="33.00" height="7.05" fill="#6060a0" shape-rendering="crispEdges"/>
<rect x="386.20" y="441.06" width="32.60" height="7.05" fill="#9a9a80" shape-rendering="crispEdges"/>
<rect x="418.50" y="441.06" width="32.20" height="7.05" fill="#4248ba" shape-rendering="crispEdges"/>
<rect x="450.40" y="441.06" width="32.60" height="7.05" fill="#b0ac60" shape-rendering="crispEdges"/>
<rect x="482.70" y="441.06" width="32.80" height="7.05" fill="#989880" shape-rendering="crispEdges"/>
<text x="341.00" y="446.04" font-size="4.5" font-weight="bold" text-anchor="middle" fill="#222" stroke="#222" stroke-width="0.13">MYBL1</text>
<rect x="353.50" y="447.81" width="33.00" height="7.05" fill="#6a6a9a" shape-rendering="crispEdges"/>
<rect x="386.20" y="447.81" width="32.60" height="7.05" fill="#a4a070" shape-rendering="crispEdges"/>
<rect x="418.50" y="447.81" width="32.20" height="7.05" fill="#4248ba" shape-rendering="crispEdges"/>
<rect x="450.40" y="447.81" width="32.60" height="7.05" fill="#c0bc48" shape-rendering="crispEdges"/>
<rect x="482.70" y="447.81" width="32.80" height="7.05" fill="#9a9880" shape-rendering="crispEdges"/>
<text x="341.00" y="452.79" font-size="4.5" font-weight="bold" text-anchor="middle" fill="#222" stroke="#222" stroke-width="0.13">GREB1</text>
<rect x="353.50" y="454.56" width="33.00" height="7.05" fill="#7a789a" shape-rendering="crispEdges"/>
<rect x="386.20" y="454.56" width="32.60" height="7.05" fill="#9a9888" shape-rendering="crispEdges"/>
<rect x="418.50" y="454.56" width="32.20" height="7.05" fill="#9a9878" shape-rendering="crispEdges"/>
<rect x="450.40" y="454.56" width="32.60" height="7.05" fill="#908e88" shape-rendering="crispEdges"/>
<rect x="482.70" y="454.56" width="32.80" height="7.05" fill="#7a7a98" shape-rendering="crispEdges"/>
<text x="341.00" y="459.54" font-size="4.5" font-weight="bold" text-anchor="middle" fill="#222" stroke="#222" stroke-width="0.13">IGF1R</text>
<rect x="353.50" y="461.32" width="33.00" height="7.05" fill="#4850b5" shape-rendering="crispEdges"/>
<rect x="386.20" y="461.32" width="32.60" height="7.05" fill="#bcb850" shape-rendering="crispEdges"/>
<rect x="418.50" y="461.32" width="32.20" height="7.05" fill="#4048c0" shape-rendering="crispEdges"/>
<rect x="450.40" y="461.32" width="32.60" height="7.05" fill="#f0ec28" shape-rendering="crispEdges"/>
<rect x="482.70" y="461.32" width="32.80" height="7.05" fill="#b0ac60" shape-rendering="crispEdges"/>
<text x="341.00" y="466.29" font-size="4.5" font-weight="bold" text-anchor="middle" fill="#222" stroke="#222" stroke-width="0.13">PGR</text>
<rect x="353.50" y="468.07" width="33.00" height="7.05" fill="#5a5aa8" shape-rendering="crispEdges"/>
<rect x="386.20" y="468.07" width="32.60" height="7.05" fill="#b8b458" shape-rendering="crispEdges"/>
<rect x="418.50" y="468.07" width="32.20" height="7.05" fill="#7a7a98" shape-rendering="crispEdges"/>
<rect x="450.40" y="468.07" width="32.60" height="7.05" fill="#cac640" shape-rendering="crispEdges"/>
<rect x="482.70" y="468.07" width="32.80" height="7.05" fill="#c4c048" shape-rendering="crispEdges"/>
<text x="341.00" y="473.05" font-size="4.5" font-weight="bold" text-anchor="middle" fill="#222" stroke="#222" stroke-width="0.13">SPRY1</text>
<rect x="353.50" y="474.82" width="33.00" height="7.05" fill="#4c4cb0" shape-rendering="crispEdges"/>
<rect x="386.20" y="474.82" width="32.60" height="7.05" fill="#b4b060" shape-rendering="crispEdges"/>
<rect x="418.50" y="474.82" width="32.20" height="7.05" fill="#7a7a98" shape-rendering="crispEdges"/>
<rect x="450.40" y="474.82" width="32.60" height="7.05" fill="#c8c440" shape-rendering="crispEdges"/>
<rect x="482.70" y="474.82" width="32.80" height="7.05" fill="#c0bc48" shape-rendering="crispEdges"/>
<text x="341.00" y="479.80" font-size="4.5" font-weight="bold" text-anchor="middle" fill="#222" stroke="#222" stroke-width="0.13">ZEB1</text>
<rect x="353.50" y="481.58" width="33.00" height="7.05" fill="#5a5aa8" shape-rendering="crispEdges"/>
<rect x="386.20" y="481.58" width="32.60" height="7.05" fill="#bcb850" shape-rendering="crispEdges"/>
<rect x="418.50" y="481.58" width="32.20" height="7.05" fill="#6a6aa8" shape-rendering="crispEdges"/>
<rect x="450.40" y="481.58" width="32.60" height="7.05" fill="#d4d034" shape-rendering="crispEdges"/>
<rect x="482.70" y="481.58" width="32.80" height="7.05" fill="#c0bc48" shape-rendering="crispEdges"/>
<text x="341.00" y="486.55" font-size="4.5" font-weight="bold" text-anchor="middle" fill="#222" stroke="#222" stroke-width="0.13">GATA3</text>
<rect x="353.50" y="488.33" width="33.00" height="7.05" fill="#6060a8" shape-rendering="crispEdges"/>
<rect x="386.20" y="488.33" width="32.60" height="7.05" fill="#a0a070" shape-rendering="crispEdges"/>
<rect x="418.50" y="488.33" width="32.20" height="7.05" fill="#6868a8" shape-rendering="crispEdges"/>
<rect x="450.40" y="488.33" width="32.60" height="7.05" fill="#e0dc28" shape-rendering="crispEdges"/>
<rect x="482.70" y="488.33" width="32.80" height="7.05" fill="#c8c440" shape-rendering="crispEdges"/>
<text x="341.00" y="493.31" font-size="4.5" font-weight="bold" text-anchor="middle" fill="#222" stroke="#222" stroke-width="0.13">MUC1</text>
<rect x="353.50" y="495.08" width="33.00" height="7.05" fill="#6464a4" shape-rendering="crispEdges"/>
<rect x="386.20" y="495.08" width="32.60" height="7.05" fill="#c0bc50" shape-rendering="crispEdges"/>
<rect x="418.50" y="495.08" width="32.20" height="7.05" fill="#6c6ca4" shape-rendering="crispEdges"/>
<rect x="450.40" y="495.08" width="32.60" height="7.05" fill="#d8d430" shape-rendering="crispEdges"/>
<rect x="482.70" y="495.08" width="32.80" height="7.05" fill="#c8c440" shape-rendering="crispEdges"/>
<text x="341.00" y="500.06" font-size="4.5" font-weight="bold" text-anchor="middle" fill="#222" stroke="#222" stroke-width="0.13">LAMB2</text>
<rect x="353.50" y="501.84" width="33.00" height="7.05" fill="#787898" shape-rendering="crispEdges"/>
<rect x="386.20" y="501.84" width="32.60" height="7.05" fill="#c8c448" shape-rendering="crispEdges"/>
<rect x="418.50" y="501.84" width="32.20" height="7.05" fill="#98967c" shape-rendering="crispEdges"/>
<rect x="450.40" y="501.84" width="32.60" height="7.05" fill="#e0dc28" shape-rendering="crispEdges"/>
<rect x="482.70" y="501.84" width="32.80" height="7.05" fill="#d0cc38" shape-rendering="crispEdges"/>
<text x="341.00" y="506.81" font-size="4.5" font-weight="bold" text-anchor="middle" fill="#222" stroke="#222" stroke-width="0.13">ESR1</text>
<rect x="353.50" y="508.59" width="33.00" height="7.05" fill="#808090" shape-rendering="crispEdges"/>
<rect x="386.20" y="508.59" width="32.60" height="7.05" fill="#c0bc50" shape-rendering="crispEdges"/>
<rect x="418.50" y="508.59" width="32.20" height="7.05" fill="#7070a0" shape-rendering="crispEdges"/>
<rect x="450.40" y="508.59" width="32.60" height="7.05" fill="#dcd82c" shape-rendering="crispEdges"/>
<rect x="482.70" y="508.59" width="32.80" height="7.05" fill="#c8c440" shape-rendering="crispEdges"/>
<text x="341.00" y="513.56" font-size="4.5" font-weight="bold" text-anchor="middle" fill="#222" stroke="#222" stroke-width="0.13">RET</text>
<rect x="353.50" y="515.34" width="33.00" height="7.05" fill="#808090" shape-rendering="crispEdges"/>
<rect x="386.20" y="515.34" width="32.60" height="7.05" fill="#c0bc50" shape-rendering="crispEdges"/>
<rect x="418.50" y="515.34" width="32.20" height="7.05" fill="#7878a0" shape-rendering="crispEdges"/>
<rect x="450.40" y="515.34" width="32.60" height="7.05" fill="#c8c440" shape-rendering="crispEdges"/>
<rect x="482.70" y="515.34" width="32.80" height="7.05" fill="#a4a068" shape-rendering="crispEdges"/>
<text x="341.00" y="520.32" font-size="4.5" font-weight="bold" text-anchor="middle" fill="#222" stroke="#222" stroke-width="0.13">TFF3</text>
<rect x="353.50" y="522.09" width="33.00" height="7.05" fill="#848488" shape-rendering="crispEdges"/>
<rect x="386.20" y="522.09" width="32.60" height="7.05" fill="#d0cc40" shape-rendering="crispEdges"/>
<rect x="418.50" y="522.09" width="32.20" height="7.05" fill="#a09e70" shape-rendering="crispEdges"/>
<rect x="450.40" y="522.09" width="32.60" height="7.05" fill="#d0cc38" shape-rendering="crispEdges"/>
<rect x="482.70" y="522.09" width="32.80" height="7.05" fill="#b8b458" shape-rendering="crispEdges"/>
<text x="341.00" y="527.07" font-size="4.5" font-weight="bold" text-anchor="middle" fill="#222" stroke="#222" stroke-width="0.13">AQP3</text>
<rect x="353.50" y="528.85" width="33.00" height="7.05" fill="#d8d040" shape-rendering="crispEdges"/>
<rect x="386.20" y="528.85" width="32.60" height="7.05" fill="#3a42b8" shape-rendering="crispEdges"/>
<rect x="418.50" y="528.85" width="32.20" height="7.05" fill="#f0e820" shape-rendering="crispEdges"/>
<rect x="450.40" y="528.85" width="32.60" height="7.05" fill="#3a46b8" shape-rendering="crispEdges"/>
<rect x="482.70" y="528.85" width="32.80" height="7.05" fill="#3a46b8" shape-rendering="crispEdges"/>
<text x="341.00" y="533.82" font-size="4.5" font-weight="bold" text-anchor="middle" fill="#222" stroke="#222" stroke-width="0.13">AREG</text>
<text x="368.00" y="555.50" font-size="8.5" font-weight="bold" text-anchor="start" fill="#1a1a1a" stroke="#1a1a1a" stroke-width="0.24">Apoptotic/cell-cycle–related</text>
<text x="368.00" y="566.70" font-size="8.4" font-weight="bold" text-anchor="start" fill="#1a1a1a" stroke="#1a1a1a" stroke-width="0.24">transcription</text>
<text x="370.30" y="578.90" font-size="4.8" text-anchor="middle" fill="#222" stroke="#222" stroke-width="0.11">Fulv</text>
<text x="370.30" y="582.80" font-size="4.8" text-anchor="middle" fill="#222" stroke="#222" stroke-width="0.11">4 h</text>
<text x="403.70" y="578.90" font-size="4.8" text-anchor="middle" fill="#222" stroke="#222" stroke-width="0.11">AZD5363</text>
<text x="403.70" y="582.80" font-size="4.8" text-anchor="middle" fill="#222" stroke="#222" stroke-width="0.11">2 h</text>
<text x="437.35" y="578.90" font-size="4.8" text-anchor="middle" fill="#222" stroke="#222" stroke-width="0.11">AZD5363+fulv</text>
<text x="437.35" y="582.80" font-size="4.8" text-anchor="middle" fill="#222" stroke="#222" stroke-width="0.11">2 h</text>
<text x="470.25" y="578.90" font-size="4.8" text-anchor="middle" fill="#222" stroke="#222" stroke-width="0.11">AZD5363</text>
<text x="470.25" y="582.80" font-size="4.8" text-anchor="middle" fill="#222" stroke="#222" stroke-width="0.11">4 h</text>
<text x="503.05" y="578.90" font-size="4.8" text-anchor="middle" fill="#222" stroke="#222" stroke-width="0.11">AZD5363+fulv</text>
<text x="503.05" y="582.80" font-size="4.8" text-anchor="middle" fill="#222" stroke="#222" stroke-width="0.11">4 h</text>
<rect x="352.00" y="584.60" width="33.30" height="20.68" fill="#5c5ca8" shape-rendering="crispEdges"/>
<rect x="385.00" y="584.60" width="34.10" height="20.68" fill="#9a9878" shape-rendering="crispEdges"/>
<rect x="418.80" y="584.60" width="33.80" height="20.68" fill="#4246b6" shape-rendering="crispEdges"/>
<rect x="452.30" y="584.60" width="32.60" height="20.68" fill="#a09e6c" shape-rendering="crispEdges"/>
<rect x="484.60" y="584.60" width="33.60" height="20.68" fill="#a8a460" shape-rendering="crispEdges"/>
<text x="341.00" y="595.20" font-size="5.0" font-weight="bold" text-anchor="middle" fill="#222" stroke="#222" stroke-width="0.14">CCND1</text>
<rect x="352.00" y="604.98" width="33.30" height="20.68" fill="#6a6a9c" shape-rendering="crispEdges"/>
<rect x="385.00" y="604.98" width="34.10" height="20.68" fill="#a8a468" shape-rendering="crispEdges"/>
<rect x="418.80" y="604.98" width="33.80" height="20.68" fill="#727298" shape-rendering="crispEdges"/>
<rect x="452.30" y="604.98" width="32.60" height="20.68" fill="#c4c048" shape-rendering="crispEdges"/>
<rect x="484.60" y="604.98" width="33.60" height="20.68" fill="#bcb84c" shape-rendering="crispEdges"/>
<text x="341.00" y="615.58" font-size="5.0" font-weight="bold" text-anchor="middle" fill="#222" stroke="#222" stroke-width="0.14">CASP9</text>
<rect x="352.00" y="625.35" width="33.30" height="20.68" fill="#6e6e98" shape-rendering="crispEdges"/>
<rect x="385.00" y="625.35" width="34.10" height="20.68" fill="#dcd832" shape-rendering="crispEdges"/>
<rect x="418.80" y="625.35" width="33.80" height="20.68" fill="#a4a06a" shape-rendering="crispEdges"/>
<rect x="452.30" y="625.35" width="32.60" height="20.68" fill="#e4e02c" shape-rendering="crispEdges"/>
<rect x="484.60" y="625.35" width="33.60" height="20.68" fill="#e0dc2c" shape-rendering="crispEdges"/>
<text x="341.00" y="635.95" font-size="5.0" font-weight="bold" text-anchor="middle" fill="#222" stroke="#222" stroke-width="0.14">CCNG2</text>
<rect x="352.00" y="645.73" width="33.30" height="20.68" fill="#8e8c82" shape-rendering="crispEdges"/>
<rect x="385.00" y="645.73" width="34.10" height="20.68" fill="#ece828" shape-rendering="crispEdges"/>
<rect x="418.80" y="645.73" width="33.80" height="20.68" fill="#ccc83e" shape-rendering="crispEdges"/>
<rect x="452.30" y="645.73" width="32.60" height="20.68" fill="#f0ec1a" shape-rendering="crispEdges"/>
<rect x="484.60" y="645.73" width="33.60" height="20.68" fill="#f0ec1c" shape-rendering="crispEdges"/>
<text x="341.00" y="656.33" font-size="5.0" font-weight="bold" text-anchor="middle" fill="#222" stroke="#222" stroke-width="0.14">BMF</text>
<defs><linearGradient id="ck" x1="0" x2="1" y1="0" y2="0"><stop offset="0" stop-color="#3a44b0"/><stop offset="0.3" stop-color="#5558aa"/><stop offset="0.5" stop-color="#8c8a80"/><stop offset="0.75" stop-color="#c8c448"/><stop offset="1" stop-color="#ece828"/></linearGradient></defs>
<rect x="352.40" y="672.40" width="51.80" height="17.90" fill="url(#ck)"/>
<text x="376.60" y="671.00" font-size="2.6" font-weight="bold" text-anchor="middle" fill="#333">Color Key</text>
<line x1="360.50" y1="690.30" x2="360.50" y2="691.60" stroke="#555" stroke-width="0.4"/>
<text x="360.50" y="694.80" font-size="3" text-anchor="middle" fill="#777">·</text>
<line x1="369.50" y1="690.30" x2="369.50" y2="691.60" stroke="#555" stroke-width="0.4"/>
<text x="369.50" y="694.80" font-size="3" text-anchor="middle" fill="#777">·</text>
<line x1="378.00" y1="690.30" x2="378.00" y2="691.60" stroke="#555" stroke-width="0.4"/>
<text x="378.00" y="694.80" font-size="3" text-anchor="middle" fill="#777">·</text>
<line x1="386.70" y1="690.30" x2="386.70" y2="691.60" stroke="#555" stroke-width="0.4"/>
<text x="386.70" y="694.80" font-size="3" text-anchor="middle" fill="#777">·</text>
<line x1="395.50" y1="690.30" x2="395.50" y2="691.60" stroke="#555" stroke-width="0.4"/>
<text x="395.50" y="694.80" font-size="3" text-anchor="middle" fill="#777">·</text>
<text x="378.00" y="698.50" font-size="2.6" text-anchor="middle" fill="#666">Value</text>
</svg>
</body></html>
